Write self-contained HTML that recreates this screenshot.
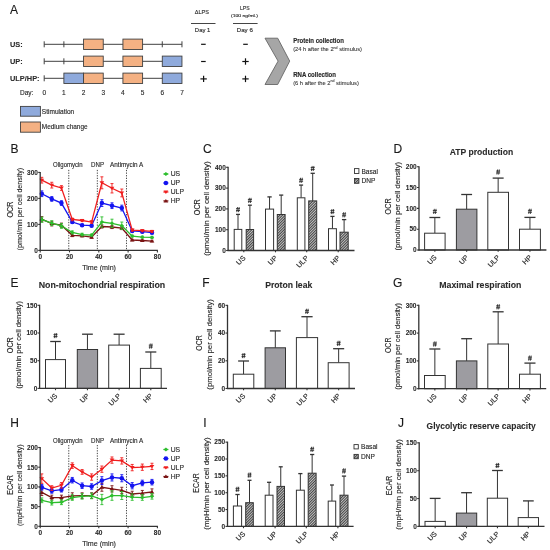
<!DOCTYPE html>
<html><head><meta charset="utf-8"><style>
html,body{margin:0;padding:0;background:#fff;}
svg{display:block;font-family:"Liberation Sans", sans-serif;filter:blur(0.3px);}
</style></head><body>
<svg width="550" height="550" viewBox="0 0 550 550">
<rect width="550" height="550" fill="#fff"/>
<defs><pattern id="hat" patternUnits="userSpaceOnUse" width="1.9" height="1.9" patternTransform="rotate(45)"><rect width="1.9" height="1.9" fill="#c0c0c0"/><rect width="0.95" height="1.9" fill="#454545"/></pattern></defs>
<text x="10.00" y="14.30" font-size="12" fill="#1a1a1a" stroke="#1a1a1a" stroke-width="0.14">A</text>
<text x="10.40" y="152.70" font-size="12" fill="#1a1a1a" stroke="#1a1a1a" stroke-width="0.14">B</text>
<text x="203.00" y="152.70" font-size="12" fill="#1a1a1a" stroke="#1a1a1a" stroke-width="0.14">C</text>
<text x="393.40" y="152.70" font-size="12" fill="#1a1a1a" stroke="#1a1a1a" stroke-width="0.14">D</text>
<text x="10.40" y="287.40" font-size="12" fill="#1a1a1a" stroke="#1a1a1a" stroke-width="0.14">E</text>
<text x="202.30" y="287.40" font-size="12" fill="#1a1a1a" stroke="#1a1a1a" stroke-width="0.14">F</text>
<text x="393.00" y="287.30" font-size="12" fill="#1a1a1a" stroke="#1a1a1a" stroke-width="0.14">G</text>
<text x="10.20" y="427.40" font-size="12" fill="#1a1a1a" stroke="#1a1a1a" stroke-width="0.14">H</text>
<text x="203.30" y="427.40" font-size="12" fill="#1a1a1a" stroke="#1a1a1a" stroke-width="0.14">I</text>
<text x="398.00" y="427.40" font-size="12" fill="#1a1a1a" stroke="#1a1a1a" stroke-width="0.14">J</text>
<text x="10.00" y="46.50" font-size="7.4" font-weight="bold" fill="#2a2a2a" stroke="#2a2a2a" stroke-width="0.08">US:</text>
<line x1="44.20" y1="44.30" x2="181.96" y2="44.30" stroke="#404040" stroke-width="1"/>
<text x="10.00" y="63.50" font-size="7.4" font-weight="bold" fill="#2a2a2a" stroke="#2a2a2a" stroke-width="0.08">UP:</text>
<line x1="44.20" y1="61.30" x2="181.96" y2="61.30" stroke="#404040" stroke-width="1"/>
<text x="10.00" y="80.50" font-size="7.4" font-weight="bold" fill="#2a2a2a" stroke="#2a2a2a" stroke-width="0.08">ULP/HP:</text>
<line x1="44.20" y1="78.30" x2="181.96" y2="78.30" stroke="#404040" stroke-width="1"/>
<line x1="44.20" y1="41.30" x2="44.20" y2="47.30" stroke="#404040" stroke-width="1"/>
<line x1="63.88" y1="41.30" x2="63.88" y2="47.30" stroke="#404040" stroke-width="1"/>
<line x1="162.28" y1="41.30" x2="162.28" y2="47.30" stroke="#404040" stroke-width="1"/>
<line x1="181.96" y1="41.30" x2="181.96" y2="47.30" stroke="#404040" stroke-width="1"/>
<rect x="83.56" y="39.10" width="19.68" height="10.40" fill="#F4B183" stroke="#404040" stroke-width="0.9"/>
<rect x="122.92" y="39.10" width="19.68" height="10.40" fill="#F4B183" stroke="#404040" stroke-width="0.9"/>
<line x1="44.20" y1="58.30" x2="44.20" y2="64.30" stroke="#404040" stroke-width="1"/>
<line x1="63.88" y1="58.30" x2="63.88" y2="64.30" stroke="#404040" stroke-width="1"/>
<rect x="83.56" y="56.10" width="19.68" height="10.40" fill="#F4B183" stroke="#404040" stroke-width="0.9"/>
<rect x="122.92" y="56.10" width="19.68" height="10.40" fill="#F4B183" stroke="#404040" stroke-width="0.9"/>
<rect x="162.28" y="56.10" width="19.68" height="10.40" fill="#8FAADC" stroke="#404040" stroke-width="0.9"/>
<line x1="44.20" y1="75.30" x2="44.20" y2="81.30" stroke="#404040" stroke-width="1"/>
<rect x="63.88" y="73.10" width="19.68" height="10.40" fill="#8FAADC" stroke="#404040" stroke-width="0.9"/>
<rect x="83.56" y="73.10" width="19.68" height="10.40" fill="#F4B183" stroke="#404040" stroke-width="0.9"/>
<rect x="122.92" y="73.10" width="19.68" height="10.40" fill="#F4B183" stroke="#404040" stroke-width="0.9"/>
<rect x="162.28" y="73.10" width="19.68" height="10.40" fill="#8FAADC" stroke="#404040" stroke-width="0.9"/>
<text x="20.00" y="94.60" font-size="6.5" fill="#2a2a2a" stroke="#2a2a2a" stroke-width="0.14">Day:</text>
<text x="44.20" y="94.60" font-size="6.5" text-anchor="middle" fill="#2a2a2a" stroke="#2a2a2a" stroke-width="0.14">0</text>
<text x="63.88" y="94.60" font-size="6.5" text-anchor="middle" fill="#2a2a2a" stroke="#2a2a2a" stroke-width="0.14">1</text>
<text x="83.56" y="94.60" font-size="6.5" text-anchor="middle" fill="#2a2a2a" stroke="#2a2a2a" stroke-width="0.14">2</text>
<text x="103.24" y="94.60" font-size="6.5" text-anchor="middle" fill="#2a2a2a" stroke="#2a2a2a" stroke-width="0.14">3</text>
<text x="122.92" y="94.60" font-size="6.5" text-anchor="middle" fill="#2a2a2a" stroke="#2a2a2a" stroke-width="0.14">4</text>
<text x="142.60" y="94.60" font-size="6.5" text-anchor="middle" fill="#2a2a2a" stroke="#2a2a2a" stroke-width="0.14">5</text>
<text x="162.28" y="94.60" font-size="6.5" text-anchor="middle" fill="#2a2a2a" stroke="#2a2a2a" stroke-width="0.14">6</text>
<text x="181.96" y="94.60" font-size="6.5" text-anchor="middle" fill="#2a2a2a" stroke="#2a2a2a" stroke-width="0.14">7</text>
<rect x="20.50" y="106.40" width="19.90" height="9.80" fill="#8FAADC" stroke="#404040" stroke-width="0.9"/>
<rect x="20.50" y="122.00" width="19.90" height="10.20" fill="#F4B183" stroke="#404040" stroke-width="0.9"/>
<text x="41.80" y="113.60" font-size="6.5" fill="#2a2a2a" stroke="#2a2a2a" stroke-width="0.14" textLength="32.40" lengthAdjust="spacingAndGlyphs">Stimulation</text>
<text x="41.80" y="129.40" font-size="6.5" fill="#2a2a2a" stroke="#2a2a2a" stroke-width="0.14" textLength="45.80" lengthAdjust="spacingAndGlyphs">Medium change</text>
<text x="201.80" y="14.30" font-size="6" text-anchor="middle" fill="#2a2a2a" stroke="#2a2a2a" stroke-width="0.14" textLength="14.20" lengthAdjust="spacingAndGlyphs">&#916;LPS</text>
<text x="244.80" y="10.40" font-size="6" text-anchor="middle" fill="#2a2a2a" stroke="#2a2a2a" stroke-width="0.14" textLength="9.60" lengthAdjust="spacingAndGlyphs">LPS</text>
<text x="244.50" y="17.30" font-size="4.2" text-anchor="middle" fill="#2a2a2a" stroke="#2a2a2a" stroke-width="0.14" textLength="27.00" lengthAdjust="spacingAndGlyphs">(100 ng/mL)</text>
<line x1="191.00" y1="23.50" x2="215.50" y2="23.50" stroke="#444" stroke-width="1"/>
<line x1="233.00" y1="23.50" x2="257.60" y2="23.50" stroke="#444" stroke-width="1"/>
<text x="202.60" y="31.90" font-size="6.2" text-anchor="middle" fill="#2a2a2a" stroke="#2a2a2a" stroke-width="0.14" textLength="15.50" lengthAdjust="spacingAndGlyphs">Day 1</text>
<text x="244.80" y="31.90" font-size="6.2" text-anchor="middle" fill="#2a2a2a" stroke="#2a2a2a" stroke-width="0.14" textLength="16.00" lengthAdjust="spacingAndGlyphs">Day 6</text>
<line x1="201.10" y1="44.30" x2="205.70" y2="44.30" stroke="#111" stroke-width="1.2"/>
<line x1="243.20" y1="44.30" x2="247.80" y2="44.30" stroke="#111" stroke-width="1.2"/>
<line x1="201.10" y1="61.50" x2="205.70" y2="61.50" stroke="#111" stroke-width="1.2"/>
<line x1="242.30" y1="61.50" x2="248.70" y2="61.50" stroke="#111" stroke-width="1.2"/>
<line x1="245.50" y1="58.30" x2="245.50" y2="64.70" stroke="#111" stroke-width="1.2"/>
<line x1="200.40" y1="78.90" x2="206.80" y2="78.90" stroke="#111" stroke-width="1.2"/>
<line x1="203.60" y1="75.70" x2="203.60" y2="82.10" stroke="#111" stroke-width="1.2"/>
<line x1="242.30" y1="78.90" x2="248.70" y2="78.90" stroke="#111" stroke-width="1.2"/>
<line x1="245.50" y1="75.70" x2="245.50" y2="82.10" stroke="#111" stroke-width="1.2"/>
<polygon points="265,38.2 277.7,38.2 289.7,61.1 277.7,84.5 265,84.5 278.1,61.1" fill="#A6A6A6" stroke="#666" stroke-width="0.9"/>
<text x="293.20" y="43.10" font-size="6.4" font-weight="bold" fill="#2a2a2a" stroke="#2a2a2a" stroke-width="0.15" textLength="50.70" lengthAdjust="spacingAndGlyphs">Protein collection</text>
<text x="293.20" y="50.80" font-size="5.72" fill="#3a3a3a" stroke="#3a3a3a" stroke-width="0.1">(24 h after the 2<tspan font-size="3.6" dy="-2.3">nd</tspan><tspan dy="2.3"> stimulus)</tspan></text>
<text x="293.20" y="76.60" font-size="6.4" font-weight="bold" fill="#2a2a2a" stroke="#2a2a2a" stroke-width="0.15" textLength="42.80" lengthAdjust="spacingAndGlyphs">RNA collection</text>
<text x="293.20" y="84.50" font-size="5.72" fill="#3a3a3a" stroke="#3a3a3a" stroke-width="0.1">(6 h after the 2<tspan font-size="3.6" dy="-2.3">nd</tspan><tspan dy="2.3"> stimulus)</tspan></text>
<line x1="68.77" y1="169.90" x2="68.77" y2="250.40" stroke="#333" stroke-width="0.9" stroke-dasharray="1.3,1.3"/>
<line x1="97.34" y1="169.90" x2="97.34" y2="250.40" stroke="#333" stroke-width="0.9" stroke-dasharray="1.3,1.3"/>
<line x1="126.49" y1="169.90" x2="126.49" y2="250.40" stroke="#333" stroke-width="0.9" stroke-dasharray="1.3,1.3"/>
<polyline points="41.81,219.20 51.77,223.62 61.44,225.18 72.28,235.32 82.10,235.84 91.62,237.14 101.88,226.48 111.99,227.00 121.80,228.04 132.20,240.00 142.31,240.52 151.98,241.04" fill="none" stroke="#7A1414" stroke-width="1.3"/>
<line x1="41.81" y1="216.60" x2="41.81" y2="221.80" stroke="#7A1414" stroke-width="0.9"/>
<line x1="40.31" y1="216.60" x2="43.31" y2="216.60" stroke="#7A1414" stroke-width="0.9"/>
<line x1="40.31" y1="221.80" x2="43.31" y2="221.80" stroke="#7A1414" stroke-width="0.9"/>
<polygon points="39.41,220.70 44.21,220.70 41.81,217.30" fill="#7A1414"/>
<line x1="51.77" y1="221.28" x2="51.77" y2="225.96" stroke="#7A1414" stroke-width="0.9"/>
<line x1="50.27" y1="221.28" x2="53.27" y2="221.28" stroke="#7A1414" stroke-width="0.9"/>
<line x1="50.27" y1="225.96" x2="53.27" y2="225.96" stroke="#7A1414" stroke-width="0.9"/>
<polygon points="49.37,225.12 54.17,225.12 51.77,221.72" fill="#7A1414"/>
<line x1="61.44" y1="223.10" x2="61.44" y2="227.26" stroke="#7A1414" stroke-width="0.9"/>
<line x1="59.94" y1="223.10" x2="62.94" y2="223.10" stroke="#7A1414" stroke-width="0.9"/>
<line x1="59.94" y1="227.26" x2="62.94" y2="227.26" stroke="#7A1414" stroke-width="0.9"/>
<polygon points="59.04,226.68 63.84,226.68 61.44,223.28" fill="#7A1414"/>
<line x1="72.28" y1="234.02" x2="72.28" y2="236.62" stroke="#7A1414" stroke-width="0.9"/>
<line x1="70.78" y1="234.02" x2="73.78" y2="234.02" stroke="#7A1414" stroke-width="0.9"/>
<line x1="70.78" y1="236.62" x2="73.78" y2="236.62" stroke="#7A1414" stroke-width="0.9"/>
<polygon points="69.88,236.82 74.68,236.82 72.28,233.42" fill="#7A1414"/>
<line x1="82.10" y1="234.80" x2="82.10" y2="236.88" stroke="#7A1414" stroke-width="0.9"/>
<line x1="80.60" y1="234.80" x2="83.60" y2="234.80" stroke="#7A1414" stroke-width="0.9"/>
<line x1="80.60" y1="236.88" x2="83.60" y2="236.88" stroke="#7A1414" stroke-width="0.9"/>
<polygon points="79.70,237.34 84.50,237.34 82.10,233.94" fill="#7A1414"/>
<line x1="91.62" y1="236.10" x2="91.62" y2="238.18" stroke="#7A1414" stroke-width="0.9"/>
<line x1="90.12" y1="236.10" x2="93.12" y2="236.10" stroke="#7A1414" stroke-width="0.9"/>
<line x1="90.12" y1="238.18" x2="93.12" y2="238.18" stroke="#7A1414" stroke-width="0.9"/>
<polygon points="89.22,238.64 94.02,238.64 91.62,235.24" fill="#7A1414"/>
<line x1="101.88" y1="224.92" x2="101.88" y2="228.04" stroke="#7A1414" stroke-width="0.9"/>
<line x1="100.38" y1="224.92" x2="103.38" y2="224.92" stroke="#7A1414" stroke-width="0.9"/>
<line x1="100.38" y1="228.04" x2="103.38" y2="228.04" stroke="#7A1414" stroke-width="0.9"/>
<polygon points="99.48,227.98 104.28,227.98 101.88,224.58" fill="#7A1414"/>
<line x1="111.99" y1="225.44" x2="111.99" y2="228.56" stroke="#7A1414" stroke-width="0.9"/>
<line x1="110.49" y1="225.44" x2="113.49" y2="225.44" stroke="#7A1414" stroke-width="0.9"/>
<line x1="110.49" y1="228.56" x2="113.49" y2="228.56" stroke="#7A1414" stroke-width="0.9"/>
<polygon points="109.59,228.50 114.39,228.50 111.99,225.10" fill="#7A1414"/>
<line x1="121.80" y1="226.48" x2="121.80" y2="229.60" stroke="#7A1414" stroke-width="0.9"/>
<line x1="120.30" y1="226.48" x2="123.30" y2="226.48" stroke="#7A1414" stroke-width="0.9"/>
<line x1="120.30" y1="229.60" x2="123.30" y2="229.60" stroke="#7A1414" stroke-width="0.9"/>
<polygon points="119.40,229.54 124.20,229.54 121.80,226.14" fill="#7A1414"/>
<line x1="132.20" y1="239.22" x2="132.20" y2="240.78" stroke="#7A1414" stroke-width="0.9"/>
<line x1="130.70" y1="239.22" x2="133.70" y2="239.22" stroke="#7A1414" stroke-width="0.9"/>
<line x1="130.70" y1="240.78" x2="133.70" y2="240.78" stroke="#7A1414" stroke-width="0.9"/>
<polygon points="129.80,241.50 134.60,241.50 132.20,238.10" fill="#7A1414"/>
<line x1="142.31" y1="239.74" x2="142.31" y2="241.30" stroke="#7A1414" stroke-width="0.9"/>
<line x1="140.81" y1="239.74" x2="143.81" y2="239.74" stroke="#7A1414" stroke-width="0.9"/>
<line x1="140.81" y1="241.30" x2="143.81" y2="241.30" stroke="#7A1414" stroke-width="0.9"/>
<polygon points="139.91,242.02 144.71,242.02 142.31,238.62" fill="#7A1414"/>
<line x1="151.98" y1="240.26" x2="151.98" y2="241.82" stroke="#7A1414" stroke-width="0.9"/>
<line x1="150.48" y1="240.26" x2="153.48" y2="240.26" stroke="#7A1414" stroke-width="0.9"/>
<line x1="150.48" y1="241.82" x2="153.48" y2="241.82" stroke="#7A1414" stroke-width="0.9"/>
<polygon points="149.58,242.54 154.38,242.54 151.98,239.14" fill="#7A1414"/>
<polyline points="41.81,219.72 51.77,223.10 61.44,225.96 72.28,232.46 82.10,234.54 91.62,235.06 101.88,222.06 111.99,223.36 121.80,225.70 132.20,236.10 142.31,237.14 151.98,237.40" fill="none" stroke="#2DBE2D" stroke-width="1.3"/>
<line x1="41.81" y1="217.12" x2="41.81" y2="222.32" stroke="#2DBE2D" stroke-width="0.9"/>
<line x1="40.31" y1="217.12" x2="43.31" y2="217.12" stroke="#2DBE2D" stroke-width="0.9"/>
<line x1="40.31" y1="222.32" x2="43.31" y2="222.32" stroke="#2DBE2D" stroke-width="0.9"/>
<polygon points="39.51,219.72 41.81,217.82 44.11,219.72 41.81,221.62" fill="#2DBE2D"/>
<line x1="51.77" y1="220.76" x2="51.77" y2="225.44" stroke="#2DBE2D" stroke-width="0.9"/>
<line x1="50.27" y1="220.76" x2="53.27" y2="220.76" stroke="#2DBE2D" stroke-width="0.9"/>
<line x1="50.27" y1="225.44" x2="53.27" y2="225.44" stroke="#2DBE2D" stroke-width="0.9"/>
<polygon points="49.47,223.10 51.77,221.20 54.07,223.10 51.77,225.00" fill="#2DBE2D"/>
<line x1="61.44" y1="223.62" x2="61.44" y2="228.30" stroke="#2DBE2D" stroke-width="0.9"/>
<line x1="59.94" y1="223.62" x2="62.94" y2="223.62" stroke="#2DBE2D" stroke-width="0.9"/>
<line x1="59.94" y1="228.30" x2="62.94" y2="228.30" stroke="#2DBE2D" stroke-width="0.9"/>
<polygon points="59.14,225.96 61.44,224.06 63.74,225.96 61.44,227.86" fill="#2DBE2D"/>
<line x1="72.28" y1="230.90" x2="72.28" y2="234.02" stroke="#2DBE2D" stroke-width="0.9"/>
<line x1="70.78" y1="230.90" x2="73.78" y2="230.90" stroke="#2DBE2D" stroke-width="0.9"/>
<line x1="70.78" y1="234.02" x2="73.78" y2="234.02" stroke="#2DBE2D" stroke-width="0.9"/>
<polygon points="69.98,232.46 72.28,230.56 74.58,232.46 72.28,234.36" fill="#2DBE2D"/>
<line x1="82.10" y1="233.24" x2="82.10" y2="235.84" stroke="#2DBE2D" stroke-width="0.9"/>
<line x1="80.60" y1="233.24" x2="83.60" y2="233.24" stroke="#2DBE2D" stroke-width="0.9"/>
<line x1="80.60" y1="235.84" x2="83.60" y2="235.84" stroke="#2DBE2D" stroke-width="0.9"/>
<polygon points="79.80,234.54 82.10,232.64 84.40,234.54 82.10,236.44" fill="#2DBE2D"/>
<line x1="91.62" y1="234.02" x2="91.62" y2="236.10" stroke="#2DBE2D" stroke-width="0.9"/>
<line x1="90.12" y1="234.02" x2="93.12" y2="234.02" stroke="#2DBE2D" stroke-width="0.9"/>
<line x1="90.12" y1="236.10" x2="93.12" y2="236.10" stroke="#2DBE2D" stroke-width="0.9"/>
<polygon points="89.32,235.06 91.62,233.16 93.92,235.06 91.62,236.96" fill="#2DBE2D"/>
<line x1="101.88" y1="216.86" x2="101.88" y2="227.26" stroke="#2DBE2D" stroke-width="0.9"/>
<line x1="100.38" y1="216.86" x2="103.38" y2="216.86" stroke="#2DBE2D" stroke-width="0.9"/>
<line x1="100.38" y1="227.26" x2="103.38" y2="227.26" stroke="#2DBE2D" stroke-width="0.9"/>
<polygon points="99.58,222.06 101.88,220.16 104.18,222.06 101.88,223.96" fill="#2DBE2D"/>
<line x1="111.99" y1="219.20" x2="111.99" y2="227.52" stroke="#2DBE2D" stroke-width="0.9"/>
<line x1="110.49" y1="219.20" x2="113.49" y2="219.20" stroke="#2DBE2D" stroke-width="0.9"/>
<line x1="110.49" y1="227.52" x2="113.49" y2="227.52" stroke="#2DBE2D" stroke-width="0.9"/>
<polygon points="109.69,223.36 111.99,221.46 114.29,223.36 111.99,225.26" fill="#2DBE2D"/>
<line x1="121.80" y1="222.06" x2="121.80" y2="229.34" stroke="#2DBE2D" stroke-width="0.9"/>
<line x1="120.30" y1="222.06" x2="123.30" y2="222.06" stroke="#2DBE2D" stroke-width="0.9"/>
<line x1="120.30" y1="229.34" x2="123.30" y2="229.34" stroke="#2DBE2D" stroke-width="0.9"/>
<polygon points="119.50,225.70 121.80,223.80 124.10,225.70 121.80,227.60" fill="#2DBE2D"/>
<line x1="132.20" y1="235.06" x2="132.20" y2="237.14" stroke="#2DBE2D" stroke-width="0.9"/>
<line x1="130.70" y1="235.06" x2="133.70" y2="235.06" stroke="#2DBE2D" stroke-width="0.9"/>
<line x1="130.70" y1="237.14" x2="133.70" y2="237.14" stroke="#2DBE2D" stroke-width="0.9"/>
<polygon points="129.90,236.10 132.20,234.20 134.50,236.10 132.20,238.00" fill="#2DBE2D"/>
<line x1="142.31" y1="236.10" x2="142.31" y2="238.18" stroke="#2DBE2D" stroke-width="0.9"/>
<line x1="140.81" y1="236.10" x2="143.81" y2="236.10" stroke="#2DBE2D" stroke-width="0.9"/>
<line x1="140.81" y1="238.18" x2="143.81" y2="238.18" stroke="#2DBE2D" stroke-width="0.9"/>
<polygon points="140.01,237.14 142.31,235.24 144.61,237.14 142.31,239.04" fill="#2DBE2D"/>
<line x1="151.98" y1="236.36" x2="151.98" y2="238.44" stroke="#2DBE2D" stroke-width="0.9"/>
<line x1="150.48" y1="236.36" x2="153.48" y2="236.36" stroke="#2DBE2D" stroke-width="0.9"/>
<line x1="150.48" y1="238.44" x2="153.48" y2="238.44" stroke="#2DBE2D" stroke-width="0.9"/>
<polygon points="149.68,237.40 151.98,235.50 154.28,237.40 151.98,239.30" fill="#2DBE2D"/>
<polyline points="41.81,193.72 51.77,198.92 61.44,203.08 72.28,222.06 82.10,225.18 91.62,225.70 101.88,203.08 111.99,205.68 121.80,208.02 132.20,230.90 142.31,231.68 151.98,232.72" fill="none" stroke="#1414F0" stroke-width="1.3"/>
<line x1="41.81" y1="190.86" x2="41.81" y2="196.58" stroke="#1414F0" stroke-width="0.9"/>
<line x1="40.31" y1="190.86" x2="43.31" y2="190.86" stroke="#1414F0" stroke-width="0.9"/>
<line x1="40.31" y1="196.58" x2="43.31" y2="196.58" stroke="#1414F0" stroke-width="0.9"/>
<circle cx="41.81" cy="193.72" r="2.25" fill="#1414F0"/>
<line x1="51.77" y1="196.58" x2="51.77" y2="201.26" stroke="#1414F0" stroke-width="0.9"/>
<line x1="50.27" y1="196.58" x2="53.27" y2="196.58" stroke="#1414F0" stroke-width="0.9"/>
<line x1="50.27" y1="201.26" x2="53.27" y2="201.26" stroke="#1414F0" stroke-width="0.9"/>
<circle cx="51.77" cy="198.92" r="2.25" fill="#1414F0"/>
<line x1="61.44" y1="200.74" x2="61.44" y2="205.42" stroke="#1414F0" stroke-width="0.9"/>
<line x1="59.94" y1="200.74" x2="62.94" y2="200.74" stroke="#1414F0" stroke-width="0.9"/>
<line x1="59.94" y1="205.42" x2="62.94" y2="205.42" stroke="#1414F0" stroke-width="0.9"/>
<circle cx="61.44" cy="203.08" r="2.25" fill="#1414F0"/>
<line x1="72.28" y1="220.76" x2="72.28" y2="223.36" stroke="#1414F0" stroke-width="0.9"/>
<line x1="70.78" y1="220.76" x2="73.78" y2="220.76" stroke="#1414F0" stroke-width="0.9"/>
<line x1="70.78" y1="223.36" x2="73.78" y2="223.36" stroke="#1414F0" stroke-width="0.9"/>
<circle cx="72.28" cy="222.06" r="2.25" fill="#1414F0"/>
<line x1="82.10" y1="224.14" x2="82.10" y2="226.22" stroke="#1414F0" stroke-width="0.9"/>
<line x1="80.60" y1="224.14" x2="83.60" y2="224.14" stroke="#1414F0" stroke-width="0.9"/>
<line x1="80.60" y1="226.22" x2="83.60" y2="226.22" stroke="#1414F0" stroke-width="0.9"/>
<circle cx="82.10" cy="225.18" r="2.25" fill="#1414F0"/>
<line x1="91.62" y1="224.66" x2="91.62" y2="226.74" stroke="#1414F0" stroke-width="0.9"/>
<line x1="90.12" y1="224.66" x2="93.12" y2="224.66" stroke="#1414F0" stroke-width="0.9"/>
<line x1="90.12" y1="226.74" x2="93.12" y2="226.74" stroke="#1414F0" stroke-width="0.9"/>
<circle cx="91.62" cy="225.70" r="2.25" fill="#1414F0"/>
<line x1="101.88" y1="199.70" x2="101.88" y2="206.46" stroke="#1414F0" stroke-width="0.9"/>
<line x1="100.38" y1="199.70" x2="103.38" y2="199.70" stroke="#1414F0" stroke-width="0.9"/>
<line x1="100.38" y1="206.46" x2="103.38" y2="206.46" stroke="#1414F0" stroke-width="0.9"/>
<circle cx="101.88" cy="203.08" r="2.25" fill="#1414F0"/>
<line x1="111.99" y1="202.82" x2="111.99" y2="208.54" stroke="#1414F0" stroke-width="0.9"/>
<line x1="110.49" y1="202.82" x2="113.49" y2="202.82" stroke="#1414F0" stroke-width="0.9"/>
<line x1="110.49" y1="208.54" x2="113.49" y2="208.54" stroke="#1414F0" stroke-width="0.9"/>
<circle cx="111.99" cy="205.68" r="2.25" fill="#1414F0"/>
<line x1="121.80" y1="205.16" x2="121.80" y2="210.88" stroke="#1414F0" stroke-width="0.9"/>
<line x1="120.30" y1="205.16" x2="123.30" y2="205.16" stroke="#1414F0" stroke-width="0.9"/>
<line x1="120.30" y1="210.88" x2="123.30" y2="210.88" stroke="#1414F0" stroke-width="0.9"/>
<circle cx="121.80" cy="208.02" r="2.25" fill="#1414F0"/>
<line x1="132.20" y1="229.86" x2="132.20" y2="231.94" stroke="#1414F0" stroke-width="0.9"/>
<line x1="130.70" y1="229.86" x2="133.70" y2="229.86" stroke="#1414F0" stroke-width="0.9"/>
<line x1="130.70" y1="231.94" x2="133.70" y2="231.94" stroke="#1414F0" stroke-width="0.9"/>
<circle cx="132.20" cy="230.90" r="2.25" fill="#1414F0"/>
<line x1="142.31" y1="230.64" x2="142.31" y2="232.72" stroke="#1414F0" stroke-width="0.9"/>
<line x1="140.81" y1="230.64" x2="143.81" y2="230.64" stroke="#1414F0" stroke-width="0.9"/>
<line x1="140.81" y1="232.72" x2="143.81" y2="232.72" stroke="#1414F0" stroke-width="0.9"/>
<circle cx="142.31" cy="231.68" r="2.25" fill="#1414F0"/>
<line x1="151.98" y1="231.68" x2="151.98" y2="233.76" stroke="#1414F0" stroke-width="0.9"/>
<line x1="150.48" y1="231.68" x2="153.48" y2="231.68" stroke="#1414F0" stroke-width="0.9"/>
<line x1="150.48" y1="233.76" x2="153.48" y2="233.76" stroke="#1414F0" stroke-width="0.9"/>
<circle cx="151.98" cy="232.72" r="2.25" fill="#1414F0"/>
<polyline points="41.81,180.20 51.77,185.14 61.44,188.00 72.28,219.46 82.10,220.50 91.62,222.06 101.88,182.80 111.99,188.26 121.80,192.94 132.20,230.12 142.31,230.64 151.98,231.42" fill="none" stroke="#F01E1E" stroke-width="1.3"/>
<line x1="41.81" y1="177.34" x2="41.81" y2="183.06" stroke="#F01E1E" stroke-width="0.9"/>
<line x1="40.31" y1="177.34" x2="43.31" y2="177.34" stroke="#F01E1E" stroke-width="0.9"/>
<line x1="40.31" y1="183.06" x2="43.31" y2="183.06" stroke="#F01E1E" stroke-width="0.9"/>
<polygon points="39.41,178.70 44.21,178.70 41.81,182.10" fill="#F01E1E"/>
<line x1="51.77" y1="182.28" x2="51.77" y2="188.00" stroke="#F01E1E" stroke-width="0.9"/>
<line x1="50.27" y1="182.28" x2="53.27" y2="182.28" stroke="#F01E1E" stroke-width="0.9"/>
<line x1="50.27" y1="188.00" x2="53.27" y2="188.00" stroke="#F01E1E" stroke-width="0.9"/>
<polygon points="49.37,183.64 54.17,183.64 51.77,187.04" fill="#F01E1E"/>
<line x1="61.44" y1="185.66" x2="61.44" y2="190.34" stroke="#F01E1E" stroke-width="0.9"/>
<line x1="59.94" y1="185.66" x2="62.94" y2="185.66" stroke="#F01E1E" stroke-width="0.9"/>
<line x1="59.94" y1="190.34" x2="62.94" y2="190.34" stroke="#F01E1E" stroke-width="0.9"/>
<polygon points="59.04,186.50 63.84,186.50 61.44,189.90" fill="#F01E1E"/>
<line x1="72.28" y1="218.16" x2="72.28" y2="220.76" stroke="#F01E1E" stroke-width="0.9"/>
<line x1="70.78" y1="218.16" x2="73.78" y2="218.16" stroke="#F01E1E" stroke-width="0.9"/>
<line x1="70.78" y1="220.76" x2="73.78" y2="220.76" stroke="#F01E1E" stroke-width="0.9"/>
<polygon points="69.88,217.96 74.68,217.96 72.28,221.36" fill="#F01E1E"/>
<line x1="82.10" y1="219.46" x2="82.10" y2="221.54" stroke="#F01E1E" stroke-width="0.9"/>
<line x1="80.60" y1="219.46" x2="83.60" y2="219.46" stroke="#F01E1E" stroke-width="0.9"/>
<line x1="80.60" y1="221.54" x2="83.60" y2="221.54" stroke="#F01E1E" stroke-width="0.9"/>
<polygon points="79.70,219.00 84.50,219.00 82.10,222.40" fill="#F01E1E"/>
<line x1="91.62" y1="220.76" x2="91.62" y2="223.36" stroke="#F01E1E" stroke-width="0.9"/>
<line x1="90.12" y1="220.76" x2="93.12" y2="220.76" stroke="#F01E1E" stroke-width="0.9"/>
<line x1="90.12" y1="223.36" x2="93.12" y2="223.36" stroke="#F01E1E" stroke-width="0.9"/>
<polygon points="89.22,220.56 94.02,220.56 91.62,223.96" fill="#F01E1E"/>
<line x1="101.88" y1="176.82" x2="101.88" y2="188.78" stroke="#F01E1E" stroke-width="0.9"/>
<line x1="100.38" y1="176.82" x2="103.38" y2="176.82" stroke="#F01E1E" stroke-width="0.9"/>
<line x1="100.38" y1="188.78" x2="103.38" y2="188.78" stroke="#F01E1E" stroke-width="0.9"/>
<polygon points="99.48,181.30 104.28,181.30 101.88,184.70" fill="#F01E1E"/>
<line x1="111.99" y1="183.58" x2="111.99" y2="192.94" stroke="#F01E1E" stroke-width="0.9"/>
<line x1="110.49" y1="183.58" x2="113.49" y2="183.58" stroke="#F01E1E" stroke-width="0.9"/>
<line x1="110.49" y1="192.94" x2="113.49" y2="192.94" stroke="#F01E1E" stroke-width="0.9"/>
<polygon points="109.59,186.76 114.39,186.76 111.99,190.16" fill="#F01E1E"/>
<line x1="121.80" y1="189.04" x2="121.80" y2="196.84" stroke="#F01E1E" stroke-width="0.9"/>
<line x1="120.30" y1="189.04" x2="123.30" y2="189.04" stroke="#F01E1E" stroke-width="0.9"/>
<line x1="120.30" y1="196.84" x2="123.30" y2="196.84" stroke="#F01E1E" stroke-width="0.9"/>
<polygon points="119.40,191.44 124.20,191.44 121.80,194.84" fill="#F01E1E"/>
<line x1="132.20" y1="229.08" x2="132.20" y2="231.16" stroke="#F01E1E" stroke-width="0.9"/>
<line x1="130.70" y1="229.08" x2="133.70" y2="229.08" stroke="#F01E1E" stroke-width="0.9"/>
<line x1="130.70" y1="231.16" x2="133.70" y2="231.16" stroke="#F01E1E" stroke-width="0.9"/>
<polygon points="129.80,228.62 134.60,228.62 132.20,232.02" fill="#F01E1E"/>
<line x1="142.31" y1="229.60" x2="142.31" y2="231.68" stroke="#F01E1E" stroke-width="0.9"/>
<line x1="140.81" y1="229.60" x2="143.81" y2="229.60" stroke="#F01E1E" stroke-width="0.9"/>
<line x1="140.81" y1="231.68" x2="143.81" y2="231.68" stroke="#F01E1E" stroke-width="0.9"/>
<polygon points="139.91,229.14 144.71,229.14 142.31,232.54" fill="#F01E1E"/>
<line x1="151.98" y1="230.38" x2="151.98" y2="232.46" stroke="#F01E1E" stroke-width="0.9"/>
<line x1="150.48" y1="230.38" x2="153.48" y2="230.38" stroke="#F01E1E" stroke-width="0.9"/>
<line x1="150.48" y1="232.46" x2="153.48" y2="232.46" stroke="#F01E1E" stroke-width="0.9"/>
<polygon points="149.58,229.92 154.38,229.92 151.98,233.32" fill="#F01E1E"/>
<line x1="40.20" y1="171.90" x2="40.20" y2="250.90" stroke="#333" stroke-width="1.3"/>
<line x1="38.20" y1="250.40" x2="40.20" y2="250.40" stroke="#333" stroke-width="1.1"/>
<text x="37.90" y="252.70" font-size="6.5" font-weight="bold" text-anchor="end" fill="#2a2a2a" stroke="#2a2a2a" stroke-width="0.08">0</text>
<line x1="38.20" y1="224.40" x2="40.20" y2="224.40" stroke="#333" stroke-width="1.1"/>
<text x="37.90" y="226.70" font-size="6.5" font-weight="bold" text-anchor="end" fill="#2a2a2a" stroke="#2a2a2a" stroke-width="0.08">100</text>
<line x1="38.20" y1="198.40" x2="40.20" y2="198.40" stroke="#333" stroke-width="1.1"/>
<text x="37.90" y="200.70" font-size="6.5" font-weight="bold" text-anchor="end" fill="#2a2a2a" stroke="#2a2a2a" stroke-width="0.08">200</text>
<line x1="38.20" y1="172.40" x2="40.20" y2="172.40" stroke="#333" stroke-width="1.1"/>
<text x="37.90" y="174.70" font-size="6.5" font-weight="bold" text-anchor="end" fill="#2a2a2a" stroke="#2a2a2a" stroke-width="0.08">300</text>
<line x1="39.60" y1="250.40" x2="157.90" y2="250.40" stroke="#333" stroke-width="1.3"/>
<line x1="40.20" y1="250.40" x2="40.20" y2="252.40" stroke="#333" stroke-width="1.1"/>
<text x="40.20" y="258.80" font-size="6.5" font-weight="bold" text-anchor="middle" fill="#2a2a2a" stroke="#2a2a2a" stroke-width="0.08">0</text>
<line x1="69.50" y1="250.40" x2="69.50" y2="252.40" stroke="#333" stroke-width="1.1"/>
<text x="69.50" y="258.80" font-size="6.5" font-weight="bold" text-anchor="middle" fill="#2a2a2a" stroke="#2a2a2a" stroke-width="0.08">20</text>
<line x1="98.80" y1="250.40" x2="98.80" y2="252.40" stroke="#333" stroke-width="1.1"/>
<text x="98.80" y="258.80" font-size="6.5" font-weight="bold" text-anchor="middle" fill="#2a2a2a" stroke="#2a2a2a" stroke-width="0.08">40</text>
<line x1="128.10" y1="250.40" x2="128.10" y2="252.40" stroke="#333" stroke-width="1.1"/>
<text x="128.10" y="258.80" font-size="6.5" font-weight="bold" text-anchor="middle" fill="#2a2a2a" stroke="#2a2a2a" stroke-width="0.08">60</text>
<line x1="157.40" y1="250.40" x2="157.40" y2="252.40" stroke="#333" stroke-width="1.1"/>
<text x="157.40" y="258.80" font-size="6.5" font-weight="bold" text-anchor="middle" fill="#2a2a2a" stroke="#2a2a2a" stroke-width="0.08">80</text>
<text x="53.00" y="167.00" font-size="6.8" fill="#2a2a2a" stroke="#2a2a2a" stroke-width="0.14" textLength="29.60" lengthAdjust="spacingAndGlyphs">Oligomycin</text>
<text x="91.00" y="167.00" font-size="6.8" fill="#2a2a2a" stroke="#2a2a2a" stroke-width="0.14" textLength="13.00" lengthAdjust="spacingAndGlyphs">DNP</text>
<text x="110.10" y="167.00" font-size="6.8" fill="#2a2a2a" stroke="#2a2a2a" stroke-width="0.14" textLength="33.20" lengthAdjust="spacingAndGlyphs">Antimycin A</text>
<line x1="163.40" y1="174.00" x2="168.40" y2="174.00" stroke="#2DBE2D" stroke-width="1.2"/>
<polygon points="163.60,174.00 165.90,172.10 168.20,174.00 165.90,175.90" fill="#2DBE2D"/>
<text x="170.70" y="176.40" font-size="6.8" fill="#2a2a2a" stroke="#2a2a2a" stroke-width="0.14">US</text>
<line x1="163.40" y1="183.00" x2="168.40" y2="183.00" stroke="#1414F0" stroke-width="1.2"/>
<circle cx="165.90" cy="183.00" r="2.25" fill="#1414F0"/>
<text x="170.70" y="185.40" font-size="6.8" fill="#2a2a2a" stroke="#2a2a2a" stroke-width="0.14">UP</text>
<line x1="163.40" y1="192.00" x2="168.40" y2="192.00" stroke="#F01E1E" stroke-width="1.2"/>
<polygon points="163.50,190.50 168.30,190.50 165.90,193.90" fill="#F01E1E"/>
<text x="170.70" y="194.40" font-size="6.8" fill="#2a2a2a" stroke="#2a2a2a" stroke-width="0.14">ULP</text>
<line x1="163.40" y1="200.90" x2="168.40" y2="200.90" stroke="#7A1414" stroke-width="1.2"/>
<polygon points="163.50,202.40 168.30,202.40 165.90,199.00" fill="#7A1414"/>
<text x="170.70" y="203.30" font-size="6.8" fill="#2a2a2a" stroke="#2a2a2a" stroke-width="0.14">HP</text>
<text x="99.10" y="270.00" font-size="7.8" text-anchor="middle" fill="#2a2a2a" stroke="#2a2a2a" stroke-width="0.14" textLength="33.80" lengthAdjust="spacingAndGlyphs">Time (min)</text>
<text x="13.30" y="209.60" font-size="8.3" text-anchor="middle" fill="#2a2a2a" stroke="#2a2a2a" stroke-width="0.14" textLength="15.80" lengthAdjust="spacingAndGlyphs" transform="rotate(-90 13.30 209.60)">OCR</text>
<text x="21.90" y="209.10" font-size="7.2" text-anchor="middle" fill="#2a2a2a" stroke="#2a2a2a" stroke-width="0.14" textLength="82.60" lengthAdjust="spacingAndGlyphs" transform="rotate(-90 21.90 209.10)">(pmol/min per cell density)</text>
<line x1="68.77" y1="445.00" x2="68.77" y2="526.30" stroke="#333" stroke-width="0.9" stroke-dasharray="1.3,1.3"/>
<line x1="97.34" y1="445.00" x2="97.34" y2="526.30" stroke="#333" stroke-width="0.9" stroke-dasharray="1.3,1.3"/>
<line x1="126.49" y1="445.00" x2="126.49" y2="526.30" stroke="#333" stroke-width="0.9" stroke-dasharray="1.3,1.3"/>
<polyline points="41.81,492.42 51.77,497.54 61.44,497.54 72.28,495.96 82.10,495.57 91.62,495.57 101.88,487.29 111.99,488.87 121.80,490.45 132.20,493.99 142.31,493.20 151.98,492.02" fill="none" stroke="#7A1414" stroke-width="1.3"/>
<line x1="41.81" y1="489.26" x2="41.81" y2="495.57" stroke="#7A1414" stroke-width="0.9"/>
<line x1="40.31" y1="489.26" x2="43.31" y2="489.26" stroke="#7A1414" stroke-width="0.9"/>
<line x1="40.31" y1="495.57" x2="43.31" y2="495.57" stroke="#7A1414" stroke-width="0.9"/>
<polygon points="39.41,493.92 44.21,493.92 41.81,490.52" fill="#7A1414"/>
<line x1="51.77" y1="495.17" x2="51.77" y2="499.90" stroke="#7A1414" stroke-width="0.9"/>
<line x1="50.27" y1="495.17" x2="53.27" y2="495.17" stroke="#7A1414" stroke-width="0.9"/>
<line x1="50.27" y1="499.90" x2="53.27" y2="499.90" stroke="#7A1414" stroke-width="0.9"/>
<polygon points="49.37,499.04 54.17,499.04 51.77,495.64" fill="#7A1414"/>
<line x1="61.44" y1="495.17" x2="61.44" y2="499.90" stroke="#7A1414" stroke-width="0.9"/>
<line x1="59.94" y1="495.17" x2="62.94" y2="495.17" stroke="#7A1414" stroke-width="0.9"/>
<line x1="59.94" y1="499.90" x2="62.94" y2="499.90" stroke="#7A1414" stroke-width="0.9"/>
<polygon points="59.04,499.04 63.84,499.04 61.44,495.64" fill="#7A1414"/>
<line x1="72.28" y1="492.81" x2="72.28" y2="499.11" stroke="#7A1414" stroke-width="0.9"/>
<line x1="70.78" y1="492.81" x2="73.78" y2="492.81" stroke="#7A1414" stroke-width="0.9"/>
<line x1="70.78" y1="499.11" x2="73.78" y2="499.11" stroke="#7A1414" stroke-width="0.9"/>
<polygon points="69.88,497.46 74.68,497.46 72.28,494.06" fill="#7A1414"/>
<line x1="82.10" y1="492.81" x2="82.10" y2="498.33" stroke="#7A1414" stroke-width="0.9"/>
<line x1="80.60" y1="492.81" x2="83.60" y2="492.81" stroke="#7A1414" stroke-width="0.9"/>
<line x1="80.60" y1="498.33" x2="83.60" y2="498.33" stroke="#7A1414" stroke-width="0.9"/>
<polygon points="79.70,497.07 84.50,497.07 82.10,493.67" fill="#7A1414"/>
<line x1="91.62" y1="492.81" x2="91.62" y2="498.33" stroke="#7A1414" stroke-width="0.9"/>
<line x1="90.12" y1="492.81" x2="93.12" y2="492.81" stroke="#7A1414" stroke-width="0.9"/>
<line x1="90.12" y1="498.33" x2="93.12" y2="498.33" stroke="#7A1414" stroke-width="0.9"/>
<polygon points="89.22,497.07 94.02,497.07 91.62,493.67" fill="#7A1414"/>
<line x1="101.88" y1="483.35" x2="101.88" y2="491.23" stroke="#7A1414" stroke-width="0.9"/>
<line x1="100.38" y1="483.35" x2="103.38" y2="483.35" stroke="#7A1414" stroke-width="0.9"/>
<line x1="100.38" y1="491.23" x2="103.38" y2="491.23" stroke="#7A1414" stroke-width="0.9"/>
<polygon points="99.48,488.79 104.28,488.79 101.88,485.39" fill="#7A1414"/>
<line x1="111.99" y1="485.72" x2="111.99" y2="492.02" stroke="#7A1414" stroke-width="0.9"/>
<line x1="110.49" y1="485.72" x2="113.49" y2="485.72" stroke="#7A1414" stroke-width="0.9"/>
<line x1="110.49" y1="492.02" x2="113.49" y2="492.02" stroke="#7A1414" stroke-width="0.9"/>
<polygon points="109.59,490.37 114.39,490.37 111.99,486.97" fill="#7A1414"/>
<line x1="121.80" y1="487.29" x2="121.80" y2="493.60" stroke="#7A1414" stroke-width="0.9"/>
<line x1="120.30" y1="487.29" x2="123.30" y2="487.29" stroke="#7A1414" stroke-width="0.9"/>
<line x1="120.30" y1="493.60" x2="123.30" y2="493.60" stroke="#7A1414" stroke-width="0.9"/>
<polygon points="119.40,491.95 124.20,491.95 121.80,488.55" fill="#7A1414"/>
<line x1="132.20" y1="491.23" x2="132.20" y2="496.75" stroke="#7A1414" stroke-width="0.9"/>
<line x1="130.70" y1="491.23" x2="133.70" y2="491.23" stroke="#7A1414" stroke-width="0.9"/>
<line x1="130.70" y1="496.75" x2="133.70" y2="496.75" stroke="#7A1414" stroke-width="0.9"/>
<polygon points="129.80,495.49 134.60,495.49 132.20,492.09" fill="#7A1414"/>
<line x1="142.31" y1="490.45" x2="142.31" y2="495.96" stroke="#7A1414" stroke-width="0.9"/>
<line x1="140.81" y1="490.45" x2="143.81" y2="490.45" stroke="#7A1414" stroke-width="0.9"/>
<line x1="140.81" y1="495.96" x2="143.81" y2="495.96" stroke="#7A1414" stroke-width="0.9"/>
<polygon points="139.91,494.70 144.71,494.70 142.31,491.30" fill="#7A1414"/>
<line x1="151.98" y1="488.87" x2="151.98" y2="495.17" stroke="#7A1414" stroke-width="0.9"/>
<line x1="150.48" y1="488.87" x2="153.48" y2="488.87" stroke="#7A1414" stroke-width="0.9"/>
<line x1="150.48" y1="495.17" x2="153.48" y2="495.17" stroke="#7A1414" stroke-width="0.9"/>
<polygon points="149.58,493.52 154.38,493.52 151.98,490.12" fill="#7A1414"/>
<polyline points="41.81,500.30 51.77,502.66 61.44,502.27 72.28,497.54 82.10,496.36 91.62,495.96 101.88,499.51 111.99,495.57 121.80,495.57 132.20,497.14 142.31,497.54 151.98,496.36" fill="none" stroke="#2DBE2D" stroke-width="1.3"/>
<line x1="41.81" y1="497.93" x2="41.81" y2="502.66" stroke="#2DBE2D" stroke-width="0.9"/>
<line x1="40.31" y1="497.93" x2="43.31" y2="497.93" stroke="#2DBE2D" stroke-width="0.9"/>
<line x1="40.31" y1="502.66" x2="43.31" y2="502.66" stroke="#2DBE2D" stroke-width="0.9"/>
<polygon points="39.51,500.30 41.81,498.40 44.11,500.30 41.81,502.20" fill="#2DBE2D"/>
<line x1="51.77" y1="500.30" x2="51.77" y2="505.02" stroke="#2DBE2D" stroke-width="0.9"/>
<line x1="50.27" y1="500.30" x2="53.27" y2="500.30" stroke="#2DBE2D" stroke-width="0.9"/>
<line x1="50.27" y1="505.02" x2="53.27" y2="505.02" stroke="#2DBE2D" stroke-width="0.9"/>
<polygon points="49.47,502.66 51.77,500.76 54.07,502.66 51.77,504.56" fill="#2DBE2D"/>
<line x1="61.44" y1="499.90" x2="61.44" y2="504.63" stroke="#2DBE2D" stroke-width="0.9"/>
<line x1="59.94" y1="499.90" x2="62.94" y2="499.90" stroke="#2DBE2D" stroke-width="0.9"/>
<line x1="59.94" y1="504.63" x2="62.94" y2="504.63" stroke="#2DBE2D" stroke-width="0.9"/>
<polygon points="59.14,502.27 61.44,500.37 63.74,502.27 61.44,504.17" fill="#2DBE2D"/>
<line x1="72.28" y1="494.78" x2="72.28" y2="500.30" stroke="#2DBE2D" stroke-width="0.9"/>
<line x1="70.78" y1="494.78" x2="73.78" y2="494.78" stroke="#2DBE2D" stroke-width="0.9"/>
<line x1="70.78" y1="500.30" x2="73.78" y2="500.30" stroke="#2DBE2D" stroke-width="0.9"/>
<polygon points="69.98,497.54 72.28,495.64 74.58,497.54 72.28,499.44" fill="#2DBE2D"/>
<line x1="82.10" y1="493.60" x2="82.10" y2="499.11" stroke="#2DBE2D" stroke-width="0.9"/>
<line x1="80.60" y1="493.60" x2="83.60" y2="493.60" stroke="#2DBE2D" stroke-width="0.9"/>
<line x1="80.60" y1="499.11" x2="83.60" y2="499.11" stroke="#2DBE2D" stroke-width="0.9"/>
<polygon points="79.80,496.36 82.10,494.46 84.40,496.36 82.10,498.26" fill="#2DBE2D"/>
<line x1="91.62" y1="493.20" x2="91.62" y2="498.72" stroke="#2DBE2D" stroke-width="0.9"/>
<line x1="90.12" y1="493.20" x2="93.12" y2="493.20" stroke="#2DBE2D" stroke-width="0.9"/>
<line x1="90.12" y1="498.72" x2="93.12" y2="498.72" stroke="#2DBE2D" stroke-width="0.9"/>
<polygon points="89.32,495.96 91.62,494.06 93.92,495.96 91.62,497.86" fill="#2DBE2D"/>
<line x1="101.88" y1="494.39" x2="101.88" y2="504.63" stroke="#2DBE2D" stroke-width="0.9"/>
<line x1="100.38" y1="494.39" x2="103.38" y2="494.39" stroke="#2DBE2D" stroke-width="0.9"/>
<line x1="100.38" y1="504.63" x2="103.38" y2="504.63" stroke="#2DBE2D" stroke-width="0.9"/>
<polygon points="99.58,499.51 101.88,497.61 104.18,499.51 101.88,501.41" fill="#2DBE2D"/>
<line x1="111.99" y1="490.84" x2="111.99" y2="500.30" stroke="#2DBE2D" stroke-width="0.9"/>
<line x1="110.49" y1="490.84" x2="113.49" y2="490.84" stroke="#2DBE2D" stroke-width="0.9"/>
<line x1="110.49" y1="500.30" x2="113.49" y2="500.30" stroke="#2DBE2D" stroke-width="0.9"/>
<polygon points="109.69,495.57 111.99,493.67 114.29,495.57 111.99,497.47" fill="#2DBE2D"/>
<line x1="121.80" y1="491.63" x2="121.80" y2="499.51" stroke="#2DBE2D" stroke-width="0.9"/>
<line x1="120.30" y1="491.63" x2="123.30" y2="491.63" stroke="#2DBE2D" stroke-width="0.9"/>
<line x1="120.30" y1="499.51" x2="123.30" y2="499.51" stroke="#2DBE2D" stroke-width="0.9"/>
<polygon points="119.50,495.57 121.80,493.67 124.10,495.57 121.80,497.47" fill="#2DBE2D"/>
<line x1="132.20" y1="493.99" x2="132.20" y2="500.30" stroke="#2DBE2D" stroke-width="0.9"/>
<line x1="130.70" y1="493.99" x2="133.70" y2="493.99" stroke="#2DBE2D" stroke-width="0.9"/>
<line x1="130.70" y1="500.30" x2="133.70" y2="500.30" stroke="#2DBE2D" stroke-width="0.9"/>
<polygon points="129.90,497.14 132.20,495.24 134.50,497.14 132.20,499.04" fill="#2DBE2D"/>
<line x1="142.31" y1="494.78" x2="142.31" y2="500.30" stroke="#2DBE2D" stroke-width="0.9"/>
<line x1="140.81" y1="494.78" x2="143.81" y2="494.78" stroke="#2DBE2D" stroke-width="0.9"/>
<line x1="140.81" y1="500.30" x2="143.81" y2="500.30" stroke="#2DBE2D" stroke-width="0.9"/>
<polygon points="140.01,497.54 142.31,495.64 144.61,497.54 142.31,499.44" fill="#2DBE2D"/>
<line x1="151.98" y1="493.60" x2="151.98" y2="499.11" stroke="#2DBE2D" stroke-width="0.9"/>
<line x1="150.48" y1="493.60" x2="153.48" y2="493.60" stroke="#2DBE2D" stroke-width="0.9"/>
<line x1="150.48" y1="499.11" x2="153.48" y2="499.11" stroke="#2DBE2D" stroke-width="0.9"/>
<polygon points="149.68,496.36 151.98,494.46 154.28,496.36 151.98,498.26" fill="#2DBE2D"/>
<polyline points="41.81,487.29 51.77,490.84 61.44,489.66 72.28,480.20 82.10,485.72 91.62,486.51 101.88,480.60 111.99,477.44 121.80,478.23 132.20,485.72 142.31,482.96 151.98,482.17" fill="none" stroke="#1414F0" stroke-width="1.3"/>
<line x1="41.81" y1="484.54" x2="41.81" y2="490.05" stroke="#1414F0" stroke-width="0.9"/>
<line x1="40.31" y1="484.54" x2="43.31" y2="484.54" stroke="#1414F0" stroke-width="0.9"/>
<line x1="40.31" y1="490.05" x2="43.31" y2="490.05" stroke="#1414F0" stroke-width="0.9"/>
<circle cx="41.81" cy="487.29" r="2.25" fill="#1414F0"/>
<line x1="51.77" y1="488.48" x2="51.77" y2="493.20" stroke="#1414F0" stroke-width="0.9"/>
<line x1="50.27" y1="488.48" x2="53.27" y2="488.48" stroke="#1414F0" stroke-width="0.9"/>
<line x1="50.27" y1="493.20" x2="53.27" y2="493.20" stroke="#1414F0" stroke-width="0.9"/>
<circle cx="51.77" cy="490.84" r="2.25" fill="#1414F0"/>
<line x1="61.44" y1="487.29" x2="61.44" y2="492.02" stroke="#1414F0" stroke-width="0.9"/>
<line x1="59.94" y1="487.29" x2="62.94" y2="487.29" stroke="#1414F0" stroke-width="0.9"/>
<line x1="59.94" y1="492.02" x2="62.94" y2="492.02" stroke="#1414F0" stroke-width="0.9"/>
<circle cx="61.44" cy="489.66" r="2.25" fill="#1414F0"/>
<line x1="72.28" y1="477.44" x2="72.28" y2="482.96" stroke="#1414F0" stroke-width="0.9"/>
<line x1="70.78" y1="477.44" x2="73.78" y2="477.44" stroke="#1414F0" stroke-width="0.9"/>
<line x1="70.78" y1="482.96" x2="73.78" y2="482.96" stroke="#1414F0" stroke-width="0.9"/>
<circle cx="72.28" cy="480.20" r="2.25" fill="#1414F0"/>
<line x1="82.10" y1="482.96" x2="82.10" y2="488.48" stroke="#1414F0" stroke-width="0.9"/>
<line x1="80.60" y1="482.96" x2="83.60" y2="482.96" stroke="#1414F0" stroke-width="0.9"/>
<line x1="80.60" y1="488.48" x2="83.60" y2="488.48" stroke="#1414F0" stroke-width="0.9"/>
<circle cx="82.10" cy="485.72" r="2.25" fill="#1414F0"/>
<line x1="91.62" y1="483.75" x2="91.62" y2="489.26" stroke="#1414F0" stroke-width="0.9"/>
<line x1="90.12" y1="483.75" x2="93.12" y2="483.75" stroke="#1414F0" stroke-width="0.9"/>
<line x1="90.12" y1="489.26" x2="93.12" y2="489.26" stroke="#1414F0" stroke-width="0.9"/>
<circle cx="91.62" cy="486.51" r="2.25" fill="#1414F0"/>
<line x1="101.88" y1="476.66" x2="101.88" y2="484.54" stroke="#1414F0" stroke-width="0.9"/>
<line x1="100.38" y1="476.66" x2="103.38" y2="476.66" stroke="#1414F0" stroke-width="0.9"/>
<line x1="100.38" y1="484.54" x2="103.38" y2="484.54" stroke="#1414F0" stroke-width="0.9"/>
<circle cx="101.88" cy="480.60" r="2.25" fill="#1414F0"/>
<line x1="111.99" y1="473.90" x2="111.99" y2="480.99" stroke="#1414F0" stroke-width="0.9"/>
<line x1="110.49" y1="473.90" x2="113.49" y2="473.90" stroke="#1414F0" stroke-width="0.9"/>
<line x1="110.49" y1="480.99" x2="113.49" y2="480.99" stroke="#1414F0" stroke-width="0.9"/>
<circle cx="111.99" cy="477.44" r="2.25" fill="#1414F0"/>
<line x1="121.80" y1="474.69" x2="121.80" y2="481.78" stroke="#1414F0" stroke-width="0.9"/>
<line x1="120.30" y1="474.69" x2="123.30" y2="474.69" stroke="#1414F0" stroke-width="0.9"/>
<line x1="120.30" y1="481.78" x2="123.30" y2="481.78" stroke="#1414F0" stroke-width="0.9"/>
<circle cx="121.80" cy="478.23" r="2.25" fill="#1414F0"/>
<line x1="132.20" y1="482.57" x2="132.20" y2="488.87" stroke="#1414F0" stroke-width="0.9"/>
<line x1="130.70" y1="482.57" x2="133.70" y2="482.57" stroke="#1414F0" stroke-width="0.9"/>
<line x1="130.70" y1="488.87" x2="133.70" y2="488.87" stroke="#1414F0" stroke-width="0.9"/>
<circle cx="132.20" cy="485.72" r="2.25" fill="#1414F0"/>
<line x1="142.31" y1="480.20" x2="142.31" y2="485.72" stroke="#1414F0" stroke-width="0.9"/>
<line x1="140.81" y1="480.20" x2="143.81" y2="480.20" stroke="#1414F0" stroke-width="0.9"/>
<line x1="140.81" y1="485.72" x2="143.81" y2="485.72" stroke="#1414F0" stroke-width="0.9"/>
<circle cx="142.31" cy="482.96" r="2.25" fill="#1414F0"/>
<line x1="151.98" y1="479.41" x2="151.98" y2="484.93" stroke="#1414F0" stroke-width="0.9"/>
<line x1="150.48" y1="479.41" x2="153.48" y2="479.41" stroke="#1414F0" stroke-width="0.9"/>
<line x1="150.48" y1="484.93" x2="153.48" y2="484.93" stroke="#1414F0" stroke-width="0.9"/>
<circle cx="151.98" cy="482.17" r="2.25" fill="#1414F0"/>
<polyline points="41.81,478.63 51.77,488.08 61.44,485.32 72.28,465.62 82.10,471.93 91.62,477.05 101.88,469.17 111.99,460.11 121.80,460.90 132.20,467.59 142.31,467.20 151.98,466.41" fill="none" stroke="#F01E1E" stroke-width="1.3"/>
<line x1="41.81" y1="473.90" x2="41.81" y2="483.35" stroke="#F01E1E" stroke-width="0.9"/>
<line x1="40.31" y1="473.90" x2="43.31" y2="473.90" stroke="#F01E1E" stroke-width="0.9"/>
<line x1="40.31" y1="483.35" x2="43.31" y2="483.35" stroke="#F01E1E" stroke-width="0.9"/>
<polygon points="39.41,477.13 44.21,477.13 41.81,480.53" fill="#F01E1E"/>
<line x1="51.77" y1="485.72" x2="51.77" y2="490.45" stroke="#F01E1E" stroke-width="0.9"/>
<line x1="50.27" y1="485.72" x2="53.27" y2="485.72" stroke="#F01E1E" stroke-width="0.9"/>
<line x1="50.27" y1="490.45" x2="53.27" y2="490.45" stroke="#F01E1E" stroke-width="0.9"/>
<polygon points="49.37,486.58 54.17,486.58 51.77,489.98" fill="#F01E1E"/>
<line x1="61.44" y1="482.57" x2="61.44" y2="488.08" stroke="#F01E1E" stroke-width="0.9"/>
<line x1="59.94" y1="482.57" x2="62.94" y2="482.57" stroke="#F01E1E" stroke-width="0.9"/>
<line x1="59.94" y1="488.08" x2="62.94" y2="488.08" stroke="#F01E1E" stroke-width="0.9"/>
<polygon points="59.04,483.82 63.84,483.82 61.44,487.22" fill="#F01E1E"/>
<line x1="72.28" y1="462.87" x2="72.28" y2="468.38" stroke="#F01E1E" stroke-width="0.9"/>
<line x1="70.78" y1="462.87" x2="73.78" y2="462.87" stroke="#F01E1E" stroke-width="0.9"/>
<line x1="70.78" y1="468.38" x2="73.78" y2="468.38" stroke="#F01E1E" stroke-width="0.9"/>
<polygon points="69.88,464.12 74.68,464.12 72.28,467.52" fill="#F01E1E"/>
<line x1="82.10" y1="469.56" x2="82.10" y2="474.29" stroke="#F01E1E" stroke-width="0.9"/>
<line x1="80.60" y1="469.56" x2="83.60" y2="469.56" stroke="#F01E1E" stroke-width="0.9"/>
<line x1="80.60" y1="474.29" x2="83.60" y2="474.29" stroke="#F01E1E" stroke-width="0.9"/>
<polygon points="79.70,470.43 84.50,470.43 82.10,473.83" fill="#F01E1E"/>
<line x1="91.62" y1="473.90" x2="91.62" y2="480.20" stroke="#F01E1E" stroke-width="0.9"/>
<line x1="90.12" y1="473.90" x2="93.12" y2="473.90" stroke="#F01E1E" stroke-width="0.9"/>
<line x1="90.12" y1="480.20" x2="93.12" y2="480.20" stroke="#F01E1E" stroke-width="0.9"/>
<polygon points="89.22,475.55 94.02,475.55 91.62,478.95" fill="#F01E1E"/>
<line x1="101.88" y1="466.02" x2="101.88" y2="472.32" stroke="#F01E1E" stroke-width="0.9"/>
<line x1="100.38" y1="466.02" x2="103.38" y2="466.02" stroke="#F01E1E" stroke-width="0.9"/>
<line x1="100.38" y1="472.32" x2="103.38" y2="472.32" stroke="#F01E1E" stroke-width="0.9"/>
<polygon points="99.48,467.67 104.28,467.67 101.88,471.07" fill="#F01E1E"/>
<line x1="111.99" y1="456.96" x2="111.99" y2="463.26" stroke="#F01E1E" stroke-width="0.9"/>
<line x1="110.49" y1="456.96" x2="113.49" y2="456.96" stroke="#F01E1E" stroke-width="0.9"/>
<line x1="110.49" y1="463.26" x2="113.49" y2="463.26" stroke="#F01E1E" stroke-width="0.9"/>
<polygon points="109.59,458.61 114.39,458.61 111.99,462.01" fill="#F01E1E"/>
<line x1="121.80" y1="457.74" x2="121.80" y2="464.05" stroke="#F01E1E" stroke-width="0.9"/>
<line x1="120.30" y1="457.74" x2="123.30" y2="457.74" stroke="#F01E1E" stroke-width="0.9"/>
<line x1="120.30" y1="464.05" x2="123.30" y2="464.05" stroke="#F01E1E" stroke-width="0.9"/>
<polygon points="119.40,459.40 124.20,459.40 121.80,462.80" fill="#F01E1E"/>
<line x1="132.20" y1="464.44" x2="132.20" y2="470.75" stroke="#F01E1E" stroke-width="0.9"/>
<line x1="130.70" y1="464.44" x2="133.70" y2="464.44" stroke="#F01E1E" stroke-width="0.9"/>
<line x1="130.70" y1="470.75" x2="133.70" y2="470.75" stroke="#F01E1E" stroke-width="0.9"/>
<polygon points="129.80,466.09 134.60,466.09 132.20,469.49" fill="#F01E1E"/>
<line x1="142.31" y1="464.05" x2="142.31" y2="470.35" stroke="#F01E1E" stroke-width="0.9"/>
<line x1="140.81" y1="464.05" x2="143.81" y2="464.05" stroke="#F01E1E" stroke-width="0.9"/>
<line x1="140.81" y1="470.35" x2="143.81" y2="470.35" stroke="#F01E1E" stroke-width="0.9"/>
<polygon points="139.91,465.70 144.71,465.70 142.31,469.10" fill="#F01E1E"/>
<line x1="151.98" y1="463.26" x2="151.98" y2="469.56" stroke="#F01E1E" stroke-width="0.9"/>
<line x1="150.48" y1="463.26" x2="153.48" y2="463.26" stroke="#F01E1E" stroke-width="0.9"/>
<line x1="150.48" y1="469.56" x2="153.48" y2="469.56" stroke="#F01E1E" stroke-width="0.9"/>
<polygon points="149.58,464.91 154.38,464.91 151.98,468.31" fill="#F01E1E"/>
<line x1="40.20" y1="447.00" x2="40.20" y2="526.80" stroke="#333" stroke-width="1.3"/>
<line x1="38.20" y1="526.30" x2="40.20" y2="526.30" stroke="#333" stroke-width="1.1"/>
<text x="37.90" y="528.60" font-size="6.5" font-weight="bold" text-anchor="end" fill="#2a2a2a" stroke="#2a2a2a" stroke-width="0.08">0</text>
<line x1="38.20" y1="506.60" x2="40.20" y2="506.60" stroke="#333" stroke-width="1.1"/>
<text x="37.90" y="508.90" font-size="6.5" font-weight="bold" text-anchor="end" fill="#2a2a2a" stroke="#2a2a2a" stroke-width="0.08">50</text>
<line x1="38.20" y1="486.90" x2="40.20" y2="486.90" stroke="#333" stroke-width="1.1"/>
<text x="37.90" y="489.20" font-size="6.5" font-weight="bold" text-anchor="end" fill="#2a2a2a" stroke="#2a2a2a" stroke-width="0.08">100</text>
<line x1="38.20" y1="467.20" x2="40.20" y2="467.20" stroke="#333" stroke-width="1.1"/>
<text x="37.90" y="469.50" font-size="6.5" font-weight="bold" text-anchor="end" fill="#2a2a2a" stroke="#2a2a2a" stroke-width="0.08">150</text>
<line x1="38.20" y1="447.50" x2="40.20" y2="447.50" stroke="#333" stroke-width="1.1"/>
<text x="37.90" y="449.80" font-size="6.5" font-weight="bold" text-anchor="end" fill="#2a2a2a" stroke="#2a2a2a" stroke-width="0.08">200</text>
<line x1="39.60" y1="526.30" x2="157.90" y2="526.30" stroke="#333" stroke-width="1.3"/>
<line x1="40.20" y1="526.30" x2="40.20" y2="528.30" stroke="#333" stroke-width="1.1"/>
<text x="40.20" y="534.50" font-size="6.5" font-weight="bold" text-anchor="middle" fill="#2a2a2a" stroke="#2a2a2a" stroke-width="0.08">0</text>
<line x1="69.50" y1="526.30" x2="69.50" y2="528.30" stroke="#333" stroke-width="1.1"/>
<text x="69.50" y="534.50" font-size="6.5" font-weight="bold" text-anchor="middle" fill="#2a2a2a" stroke="#2a2a2a" stroke-width="0.08">20</text>
<line x1="98.80" y1="526.30" x2="98.80" y2="528.30" stroke="#333" stroke-width="1.1"/>
<text x="98.80" y="534.50" font-size="6.5" font-weight="bold" text-anchor="middle" fill="#2a2a2a" stroke="#2a2a2a" stroke-width="0.08">40</text>
<line x1="128.10" y1="526.30" x2="128.10" y2="528.30" stroke="#333" stroke-width="1.1"/>
<text x="128.10" y="534.50" font-size="6.5" font-weight="bold" text-anchor="middle" fill="#2a2a2a" stroke="#2a2a2a" stroke-width="0.08">60</text>
<line x1="157.40" y1="526.30" x2="157.40" y2="528.30" stroke="#333" stroke-width="1.1"/>
<text x="157.40" y="534.50" font-size="6.5" font-weight="bold" text-anchor="middle" fill="#2a2a2a" stroke="#2a2a2a" stroke-width="0.08">80</text>
<text x="53.00" y="442.80" font-size="6.8" fill="#2a2a2a" stroke="#2a2a2a" stroke-width="0.14" textLength="29.60" lengthAdjust="spacingAndGlyphs">Oligomycin</text>
<text x="91.00" y="442.80" font-size="6.8" fill="#2a2a2a" stroke="#2a2a2a" stroke-width="0.14" textLength="13.00" lengthAdjust="spacingAndGlyphs">DNP</text>
<text x="110.10" y="442.80" font-size="6.8" fill="#2a2a2a" stroke="#2a2a2a" stroke-width="0.14" textLength="33.20" lengthAdjust="spacingAndGlyphs">Antimycin A</text>
<line x1="163.40" y1="449.50" x2="168.40" y2="449.50" stroke="#2DBE2D" stroke-width="1.2"/>
<polygon points="163.60,449.50 165.90,447.60 168.20,449.50 165.90,451.40" fill="#2DBE2D"/>
<text x="170.70" y="451.90" font-size="6.8" fill="#2a2a2a" stroke="#2a2a2a" stroke-width="0.14">US</text>
<line x1="163.40" y1="458.60" x2="168.40" y2="458.60" stroke="#1414F0" stroke-width="1.2"/>
<circle cx="165.90" cy="458.60" r="2.25" fill="#1414F0"/>
<text x="170.70" y="461.00" font-size="6.8" fill="#2a2a2a" stroke="#2a2a2a" stroke-width="0.14">UP</text>
<line x1="163.40" y1="467.70" x2="168.40" y2="467.70" stroke="#F01E1E" stroke-width="1.2"/>
<polygon points="163.50,466.20 168.30,466.20 165.90,469.60" fill="#F01E1E"/>
<text x="170.70" y="470.10" font-size="6.8" fill="#2a2a2a" stroke="#2a2a2a" stroke-width="0.14">ULP</text>
<line x1="163.40" y1="476.50" x2="168.40" y2="476.50" stroke="#7A1414" stroke-width="1.2"/>
<polygon points="163.50,478.00 168.30,478.00 165.90,474.60" fill="#7A1414"/>
<text x="170.70" y="478.90" font-size="6.8" fill="#2a2a2a" stroke="#2a2a2a" stroke-width="0.14">HP</text>
<text x="99.10" y="546.00" font-size="7.8" text-anchor="middle" fill="#2a2a2a" stroke="#2a2a2a" stroke-width="0.14" textLength="33.80" lengthAdjust="spacingAndGlyphs">Time (min)</text>
<text x="13.30" y="484.90" font-size="8.3" text-anchor="middle" fill="#2a2a2a" stroke="#2a2a2a" stroke-width="0.14" textLength="19.80" lengthAdjust="spacingAndGlyphs" transform="rotate(-90 13.30 484.90)">ECAR</text>
<text x="21.70" y="485.20" font-size="7.2" text-anchor="middle" fill="#2a2a2a" stroke="#2a2a2a" stroke-width="0.14" textLength="81.60" lengthAdjust="spacingAndGlyphs" transform="rotate(-90 21.70 485.20)">(mpH/min per cell density)</text>
<line x1="238.00" y1="229.40" x2="238.00" y2="214.40" stroke="#333" stroke-width="1"/>
<line x1="235.99" y1="214.40" x2="240.01" y2="214.40" stroke="#333" stroke-width="1.3"/>
<rect x="234.20" y="229.40" width="7.60" height="21.10" fill="#fff" stroke="#333" stroke-width="1"/>
<path d="M236.80,212.15L237.50,207.05M238.50,212.15L239.20,207.05M236.00,208.65L240.00,208.65M236.00,210.55L240.00,210.55" stroke="#262626" stroke-width="0.85" fill="none"/>
<line x1="249.90" y1="229.50" x2="249.90" y2="205.20" stroke="#333" stroke-width="1"/>
<line x1="247.94" y1="205.20" x2="251.86" y2="205.20" stroke="#333" stroke-width="1.3"/>
<rect x="246.20" y="229.50" width="7.40" height="21.00" fill="url(#hat)" stroke="#333" stroke-width="1"/>
<path d="M248.70,202.95L249.40,197.85M250.40,202.95L251.10,197.85M247.90,199.45L251.90,199.45M247.90,201.35L251.90,201.35" stroke="#262626" stroke-width="0.85" fill="none"/>
<line x1="269.55" y1="209.10" x2="269.55" y2="196.90" stroke="#333" stroke-width="1"/>
<line x1="267.40" y1="196.90" x2="271.70" y2="196.90" stroke="#333" stroke-width="1.3"/>
<rect x="265.50" y="209.10" width="8.10" height="41.40" fill="#fff" stroke="#333" stroke-width="1"/>
<line x1="281.20" y1="214.50" x2="281.20" y2="195.10" stroke="#333" stroke-width="1"/>
<line x1="279.13" y1="195.10" x2="283.27" y2="195.10" stroke="#333" stroke-width="1.3"/>
<rect x="277.30" y="214.50" width="7.80" height="36.00" fill="url(#hat)" stroke="#333" stroke-width="1"/>
<line x1="301.10" y1="197.80" x2="301.10" y2="185.10" stroke="#333" stroke-width="1"/>
<line x1="299.09" y1="185.10" x2="303.11" y2="185.10" stroke="#333" stroke-width="1.3"/>
<rect x="297.30" y="197.80" width="7.60" height="52.70" fill="#fff" stroke="#333" stroke-width="1"/>
<path d="M299.90,182.85L300.60,177.75M301.60,182.85L302.30,177.75M299.10,179.35L303.10,179.35M299.10,181.25L303.10,181.25" stroke="#262626" stroke-width="0.85" fill="none"/>
<line x1="312.70" y1="200.90" x2="312.70" y2="173.30" stroke="#333" stroke-width="1"/>
<line x1="310.58" y1="173.30" x2="314.82" y2="173.30" stroke="#333" stroke-width="1.3"/>
<rect x="308.70" y="200.90" width="8.00" height="49.60" fill="url(#hat)" stroke="#333" stroke-width="1"/>
<path d="M311.50,171.05L312.20,165.95M313.20,171.05L313.90,165.95M310.70,167.55L314.70,167.55M310.70,169.45L314.70,169.45" stroke="#262626" stroke-width="0.85" fill="none"/>
<line x1="332.45" y1="228.70" x2="332.45" y2="216.40" stroke="#333" stroke-width="1"/>
<line x1="330.36" y1="216.40" x2="334.54" y2="216.40" stroke="#333" stroke-width="1.3"/>
<rect x="328.50" y="228.70" width="7.90" height="21.80" fill="#fff" stroke="#333" stroke-width="1"/>
<path d="M331.25,214.15L331.95,209.05M332.95,214.15L333.65,209.05M330.45,210.65L334.45,210.65M330.45,212.55L334.45,212.55" stroke="#262626" stroke-width="0.85" fill="none"/>
<line x1="344.10" y1="232.20" x2="344.10" y2="219.60" stroke="#333" stroke-width="1"/>
<line x1="341.93" y1="219.60" x2="346.27" y2="219.60" stroke="#333" stroke-width="1.3"/>
<rect x="340.00" y="232.20" width="8.20" height="18.30" fill="url(#hat)" stroke="#333" stroke-width="1"/>
<path d="M342.90,217.35L343.60,212.25M344.60,217.35L345.30,212.25M342.10,213.85L346.10,213.85M342.10,215.75L346.10,215.75" stroke="#262626" stroke-width="0.85" fill="none"/>
<line x1="228.10" y1="166.80" x2="228.10" y2="251.00" stroke="#333" stroke-width="1.3"/>
<line x1="226.10" y1="250.50" x2="228.10" y2="250.50" stroke="#333" stroke-width="1.1"/>
<text x="225.80" y="252.80" font-size="6.5" font-weight="bold" text-anchor="end" fill="#2a2a2a" stroke="#2a2a2a" stroke-width="0.08">0</text>
<line x1="226.10" y1="229.70" x2="228.10" y2="229.70" stroke="#333" stroke-width="1.1"/>
<text x="225.80" y="232.00" font-size="6.5" font-weight="bold" text-anchor="end" fill="#2a2a2a" stroke="#2a2a2a" stroke-width="0.08">100</text>
<line x1="226.10" y1="208.90" x2="228.10" y2="208.90" stroke="#333" stroke-width="1.1"/>
<text x="225.80" y="211.20" font-size="6.5" font-weight="bold" text-anchor="end" fill="#2a2a2a" stroke="#2a2a2a" stroke-width="0.08">200</text>
<line x1="226.10" y1="188.10" x2="228.10" y2="188.10" stroke="#333" stroke-width="1.1"/>
<text x="225.80" y="190.40" font-size="6.5" font-weight="bold" text-anchor="end" fill="#2a2a2a" stroke="#2a2a2a" stroke-width="0.08">300</text>
<line x1="226.10" y1="167.30" x2="228.10" y2="167.30" stroke="#333" stroke-width="1.1"/>
<text x="225.80" y="169.60" font-size="6.5" font-weight="bold" text-anchor="end" fill="#2a2a2a" stroke="#2a2a2a" stroke-width="0.08">400</text>
<line x1="227.50" y1="250.50" x2="354.50" y2="250.50" stroke="#333" stroke-width="1.3"/>
<line x1="243.80" y1="250.50" x2="243.80" y2="252.30" stroke="#333" stroke-width="1.1"/>
<text x="246.10" y="258.50" font-size="7.1" text-anchor="end" fill="#2a2a2a" stroke="#2a2a2a" stroke-width="0.14" transform="rotate(-45 246.10 258.50)">US</text>
<line x1="275.50" y1="250.50" x2="275.50" y2="252.30" stroke="#333" stroke-width="1.1"/>
<text x="277.80" y="258.50" font-size="7.1" text-anchor="end" fill="#2a2a2a" stroke="#2a2a2a" stroke-width="0.14" transform="rotate(-45 277.80 258.50)">UP</text>
<line x1="306.70" y1="250.50" x2="306.70" y2="252.30" stroke="#333" stroke-width="1.1"/>
<text x="309.00" y="258.50" font-size="7.1" text-anchor="end" fill="#2a2a2a" stroke="#2a2a2a" stroke-width="0.14" transform="rotate(-45 309.00 258.50)">ULP</text>
<line x1="338.20" y1="250.50" x2="338.20" y2="252.30" stroke="#333" stroke-width="1.1"/>
<text x="340.50" y="258.50" font-size="7.1" text-anchor="end" fill="#2a2a2a" stroke="#2a2a2a" stroke-width="0.14" transform="rotate(-45 340.50 258.50)">HP</text>
<text x="199.80" y="207.20" font-size="8.3" text-anchor="middle" fill="#2a2a2a" stroke="#2a2a2a" stroke-width="0.14" textLength="16.00" lengthAdjust="spacingAndGlyphs" transform="rotate(-90 199.80 207.20)">OCR</text>
<text x="209.00" y="208.60" font-size="7.2" text-anchor="middle" fill="#2a2a2a" stroke="#2a2a2a" stroke-width="0.14" textLength="94.50" lengthAdjust="spacingAndGlyphs" transform="rotate(-90 209.00 208.60)">(pmol/min per cell density)</text>
<rect x="354.50" y="168.60" width="4.40" height="4.90" fill="#fff" stroke="#333" stroke-width="0.9"/>
<text x="361.50" y="173.60" font-size="6.6" fill="#2a2a2a" stroke="#2a2a2a" stroke-width="0.14" textLength="16.40" lengthAdjust="spacingAndGlyphs">Basal</text>
<rect x="354.50" y="178.50" width="4.40" height="4.80" fill="url(#hat)" stroke="#333" stroke-width="0.9"/>
<text x="361.50" y="183.00" font-size="6.6" fill="#2a2a2a" stroke="#2a2a2a" stroke-width="0.14">DNP</text>
<line x1="237.50" y1="506.00" x2="237.50" y2="494.50" stroke="#333" stroke-width="1"/>
<line x1="235.33" y1="494.50" x2="239.67" y2="494.50" stroke="#333" stroke-width="1.3"/>
<rect x="233.40" y="506.00" width="8.20" height="20.40" fill="#fff" stroke="#333" stroke-width="1"/>
<path d="M236.30,491.85L237.00,486.75M238.00,491.85L238.70,486.75M235.50,488.35L239.50,488.35M235.50,490.25L239.50,490.25" stroke="#262626" stroke-width="0.85" fill="none"/>
<line x1="249.50" y1="502.70" x2="249.50" y2="480.30" stroke="#333" stroke-width="1"/>
<line x1="247.49" y1="480.30" x2="251.51" y2="480.30" stroke="#333" stroke-width="1.3"/>
<rect x="245.70" y="502.70" width="7.60" height="23.70" fill="url(#hat)" stroke="#333" stroke-width="1"/>
<path d="M248.30,477.65L249.00,472.55M250.00,477.65L250.70,472.55M247.50,474.15L251.50,474.15M247.50,476.05L251.50,476.05" stroke="#262626" stroke-width="0.85" fill="none"/>
<line x1="269.10" y1="495.20" x2="269.10" y2="482.30" stroke="#333" stroke-width="1"/>
<line x1="267.03" y1="482.30" x2="271.17" y2="482.30" stroke="#333" stroke-width="1.3"/>
<rect x="265.20" y="495.20" width="7.80" height="31.20" fill="#fff" stroke="#333" stroke-width="1"/>
<line x1="280.75" y1="486.40" x2="280.75" y2="466.80" stroke="#333" stroke-width="1"/>
<line x1="278.76" y1="466.80" x2="282.74" y2="466.80" stroke="#333" stroke-width="1.3"/>
<rect x="277.00" y="486.40" width="7.50" height="40.00" fill="url(#hat)" stroke="#333" stroke-width="1"/>
<line x1="300.35" y1="490.20" x2="300.35" y2="473.60" stroke="#333" stroke-width="1"/>
<line x1="298.26" y1="473.60" x2="302.44" y2="473.60" stroke="#333" stroke-width="1.3"/>
<rect x="296.40" y="490.20" width="7.90" height="36.20" fill="#fff" stroke="#333" stroke-width="1"/>
<line x1="312.15" y1="473.20" x2="312.15" y2="454.50" stroke="#333" stroke-width="1"/>
<line x1="310.06" y1="454.50" x2="314.24" y2="454.50" stroke="#333" stroke-width="1.3"/>
<rect x="308.20" y="473.20" width="7.90" height="53.20" fill="url(#hat)" stroke="#333" stroke-width="1"/>
<path d="M310.95,451.85L311.65,446.75M312.65,451.85L313.35,446.75M310.15,448.35L314.15,448.35M310.15,450.25L314.15,450.25" stroke="#262626" stroke-width="0.85" fill="none"/>
<line x1="331.95" y1="501.10" x2="331.95" y2="485.00" stroke="#333" stroke-width="1"/>
<line x1="329.96" y1="485.00" x2="333.94" y2="485.00" stroke="#333" stroke-width="1.3"/>
<rect x="328.20" y="501.10" width="7.50" height="25.30" fill="#fff" stroke="#333" stroke-width="1"/>
<line x1="344.00" y1="495.20" x2="344.00" y2="476.10" stroke="#333" stroke-width="1"/>
<line x1="341.88" y1="476.10" x2="346.12" y2="476.10" stroke="#333" stroke-width="1.3"/>
<rect x="340.00" y="495.20" width="8.00" height="31.20" fill="url(#hat)" stroke="#333" stroke-width="1"/>
<path d="M342.80,473.45L343.50,468.35M344.50,473.45L345.20,468.35M342.00,469.95L346.00,469.95M342.00,471.85L346.00,471.85" stroke="#262626" stroke-width="0.85" fill="none"/>
<line x1="227.50" y1="441.65" x2="227.50" y2="526.90" stroke="#333" stroke-width="1.3"/>
<line x1="225.50" y1="526.40" x2="227.50" y2="526.40" stroke="#333" stroke-width="1.1"/>
<text x="225.20" y="528.70" font-size="6.5" font-weight="bold" text-anchor="end" fill="#2a2a2a" stroke="#2a2a2a" stroke-width="0.08">0</text>
<line x1="225.50" y1="509.55" x2="227.50" y2="509.55" stroke="#333" stroke-width="1.1"/>
<text x="225.20" y="511.85" font-size="6.5" font-weight="bold" text-anchor="end" fill="#2a2a2a" stroke="#2a2a2a" stroke-width="0.08">50</text>
<line x1="225.50" y1="492.70" x2="227.50" y2="492.70" stroke="#333" stroke-width="1.1"/>
<text x="225.20" y="495.00" font-size="6.5" font-weight="bold" text-anchor="end" fill="#2a2a2a" stroke="#2a2a2a" stroke-width="0.08">100</text>
<line x1="225.50" y1="475.85" x2="227.50" y2="475.85" stroke="#333" stroke-width="1.1"/>
<text x="225.20" y="478.15" font-size="6.5" font-weight="bold" text-anchor="end" fill="#2a2a2a" stroke="#2a2a2a" stroke-width="0.08">150</text>
<line x1="225.50" y1="459.00" x2="227.50" y2="459.00" stroke="#333" stroke-width="1.1"/>
<text x="225.20" y="461.30" font-size="6.5" font-weight="bold" text-anchor="end" fill="#2a2a2a" stroke="#2a2a2a" stroke-width="0.08">200</text>
<line x1="225.50" y1="442.15" x2="227.50" y2="442.15" stroke="#333" stroke-width="1.1"/>
<text x="225.20" y="444.45" font-size="6.5" font-weight="bold" text-anchor="end" fill="#2a2a2a" stroke="#2a2a2a" stroke-width="0.08">250</text>
<line x1="226.90" y1="526.40" x2="353.60" y2="526.40" stroke="#333" stroke-width="1.3"/>
<line x1="243.50" y1="526.40" x2="243.50" y2="528.20" stroke="#333" stroke-width="1.1"/>
<text x="245.80" y="534.40" font-size="7.1" text-anchor="end" fill="#2a2a2a" stroke="#2a2a2a" stroke-width="0.14" transform="rotate(-45 245.80 534.40)">US</text>
<line x1="275.10" y1="526.40" x2="275.10" y2="528.20" stroke="#333" stroke-width="1.1"/>
<text x="277.40" y="534.40" font-size="7.1" text-anchor="end" fill="#2a2a2a" stroke="#2a2a2a" stroke-width="0.14" transform="rotate(-45 277.40 534.40)">UP</text>
<line x1="306.30" y1="526.40" x2="306.30" y2="528.20" stroke="#333" stroke-width="1.1"/>
<text x="308.60" y="534.40" font-size="7.1" text-anchor="end" fill="#2a2a2a" stroke="#2a2a2a" stroke-width="0.14" transform="rotate(-45 308.60 534.40)">ULP</text>
<line x1="337.90" y1="526.40" x2="337.90" y2="528.20" stroke="#333" stroke-width="1.1"/>
<text x="340.20" y="534.40" font-size="7.1" text-anchor="end" fill="#2a2a2a" stroke="#2a2a2a" stroke-width="0.14" transform="rotate(-45 340.20 534.40)">HP</text>
<text x="198.90" y="483.00" font-size="8.3" text-anchor="middle" fill="#2a2a2a" stroke="#2a2a2a" stroke-width="0.14" textLength="19.50" lengthAdjust="spacingAndGlyphs" transform="rotate(-90 198.90 483.00)">ECAR</text>
<text x="209.20" y="483.50" font-size="7.2" text-anchor="middle" fill="#2a2a2a" stroke="#2a2a2a" stroke-width="0.14" textLength="92.50" lengthAdjust="spacingAndGlyphs" transform="rotate(-90 209.20 483.50)">(mpH/min per cell density)</text>
<rect x="354.00" y="444.60" width="4.30" height="4.30" fill="#fff" stroke="#333" stroke-width="0.9"/>
<text x="361.10" y="448.90" font-size="6.6" fill="#2a2a2a" stroke="#2a2a2a" stroke-width="0.14" textLength="16.40" lengthAdjust="spacingAndGlyphs">Basal</text>
<rect x="354.00" y="454.40" width="4.30" height="4.30" fill="url(#hat)" stroke="#333" stroke-width="0.9"/>
<text x="361.10" y="458.80" font-size="6.6" fill="#2a2a2a" stroke="#2a2a2a" stroke-width="0.14">DNP</text>
<text x="449.80" y="154.60" font-size="8.4" font-weight="bold" fill="#2a2a2a" stroke="#2a2a2a" stroke-width="0.08" textLength="63.40" lengthAdjust="spacingAndGlyphs">ATP production</text>
<line x1="434.85" y1="233.20" x2="434.85" y2="217.50" stroke="#333" stroke-width="1"/>
<line x1="429.42" y1="217.50" x2="440.28" y2="217.50" stroke="#333" stroke-width="1.3"/>
<rect x="424.60" y="233.20" width="20.50" height="16.80" fill="#fff" stroke="#333" stroke-width="1"/>
<path d="M433.65,213.95L434.35,208.85M435.35,213.95L436.05,208.85M432.85,210.45L436.85,210.45M432.85,212.35L436.85,212.35" stroke="#262626" stroke-width="0.85" fill="none"/>
<line x1="466.65" y1="209.20" x2="466.65" y2="194.50" stroke="#333" stroke-width="1"/>
<line x1="461.22" y1="194.50" x2="472.08" y2="194.50" stroke="#333" stroke-width="1.3"/>
<rect x="456.40" y="209.20" width="20.50" height="40.80" fill="#9d9ca1" stroke="#333" stroke-width="1"/>
<line x1="498.15" y1="192.30" x2="498.15" y2="178.10" stroke="#333" stroke-width="1"/>
<line x1="492.66" y1="178.10" x2="503.64" y2="178.10" stroke="#333" stroke-width="1.3"/>
<rect x="487.80" y="192.30" width="20.70" height="57.70" fill="#fff" stroke="#333" stroke-width="1"/>
<path d="M496.95,174.55L497.65,169.45M498.65,174.55L499.35,169.45M496.15,171.05L500.15,171.05M496.15,172.95L500.15,172.95" stroke="#262626" stroke-width="0.85" fill="none"/>
<line x1="529.95" y1="229.20" x2="529.95" y2="217.40" stroke="#333" stroke-width="1"/>
<line x1="524.41" y1="217.40" x2="535.49" y2="217.40" stroke="#333" stroke-width="1.3"/>
<rect x="519.50" y="229.20" width="20.90" height="20.80" fill="#fff" stroke="#333" stroke-width="1"/>
<path d="M528.75,213.85L529.45,208.75M530.45,213.85L531.15,208.75M527.95,210.35L531.95,210.35M527.95,212.25L531.95,212.25" stroke="#262626" stroke-width="0.85" fill="none"/>
<line x1="419.00" y1="166.20" x2="419.00" y2="250.50" stroke="#333" stroke-width="1.3"/>
<line x1="417.00" y1="250.00" x2="419.00" y2="250.00" stroke="#333" stroke-width="1.1"/>
<text x="416.70" y="252.30" font-size="6.5" font-weight="bold" text-anchor="end" fill="#2a2a2a" stroke="#2a2a2a" stroke-width="0.08">0</text>
<line x1="417.00" y1="229.18" x2="419.00" y2="229.18" stroke="#333" stroke-width="1.1"/>
<text x="416.70" y="231.48" font-size="6.5" font-weight="bold" text-anchor="end" fill="#2a2a2a" stroke="#2a2a2a" stroke-width="0.08">50</text>
<line x1="417.00" y1="208.35" x2="419.00" y2="208.35" stroke="#333" stroke-width="1.1"/>
<text x="416.70" y="210.65" font-size="6.5" font-weight="bold" text-anchor="end" fill="#2a2a2a" stroke="#2a2a2a" stroke-width="0.08">100</text>
<line x1="417.00" y1="187.53" x2="419.00" y2="187.53" stroke="#333" stroke-width="1.1"/>
<text x="416.70" y="189.83" font-size="6.5" font-weight="bold" text-anchor="end" fill="#2a2a2a" stroke="#2a2a2a" stroke-width="0.08">150</text>
<line x1="417.00" y1="166.70" x2="419.00" y2="166.70" stroke="#333" stroke-width="1.1"/>
<text x="416.70" y="169.00" font-size="6.5" font-weight="bold" text-anchor="end" fill="#2a2a2a" stroke="#2a2a2a" stroke-width="0.08">200</text>
<line x1="418.40" y1="250.00" x2="546.40" y2="250.00" stroke="#333" stroke-width="1.3"/>
<line x1="434.85" y1="250.00" x2="434.85" y2="251.80" stroke="#333" stroke-width="1.1"/>
<text x="437.15" y="258.00" font-size="7.1" text-anchor="end" fill="#2a2a2a" stroke="#2a2a2a" stroke-width="0.14" transform="rotate(-45 437.15 258.00)">US</text>
<line x1="466.65" y1="250.00" x2="466.65" y2="251.80" stroke="#333" stroke-width="1.1"/>
<text x="468.95" y="258.00" font-size="7.1" text-anchor="end" fill="#2a2a2a" stroke="#2a2a2a" stroke-width="0.14" transform="rotate(-45 468.95 258.00)">UP</text>
<line x1="498.15" y1="250.00" x2="498.15" y2="251.80" stroke="#333" stroke-width="1.1"/>
<text x="500.45" y="258.00" font-size="7.1" text-anchor="end" fill="#2a2a2a" stroke="#2a2a2a" stroke-width="0.14" transform="rotate(-45 500.45 258.00)">ULP</text>
<line x1="529.95" y1="250.00" x2="529.95" y2="251.80" stroke="#333" stroke-width="1.1"/>
<text x="532.25" y="258.00" font-size="7.1" text-anchor="end" fill="#2a2a2a" stroke="#2a2a2a" stroke-width="0.14" transform="rotate(-45 532.25 258.00)">HP</text>
<text x="391.30" y="206.40" font-size="8.3" text-anchor="middle" fill="#2a2a2a" stroke="#2a2a2a" stroke-width="0.14" textLength="16.20" lengthAdjust="spacingAndGlyphs" transform="rotate(-90 391.30 206.40)">OCR</text>
<text x="400.00" y="206.20" font-size="7.2" text-anchor="middle" fill="#2a2a2a" stroke="#2a2a2a" stroke-width="0.14" textLength="88.50" lengthAdjust="spacingAndGlyphs" transform="rotate(-90 400.00 206.20)">(pmol/min per cell density)</text>
<text x="38.70" y="288.30" font-size="8.4" font-weight="bold" fill="#2a2a2a" stroke="#2a2a2a" stroke-width="0.08" textLength="126.50" lengthAdjust="spacingAndGlyphs">Non-mitochondrial respiration</text>
<line x1="55.50" y1="359.60" x2="55.50" y2="341.50" stroke="#333" stroke-width="1"/>
<line x1="50.20" y1="341.50" x2="60.80" y2="341.50" stroke="#333" stroke-width="1.3"/>
<rect x="45.50" y="359.60" width="20.00" height="28.80" fill="#fff" stroke="#333" stroke-width="1"/>
<path d="M54.30,338.15L55.00,333.05M56.00,338.15L56.70,333.05M53.50,334.65L57.50,334.65M53.50,336.55L57.50,336.55" stroke="#262626" stroke-width="0.85" fill="none"/>
<line x1="87.45" y1="349.50" x2="87.45" y2="334.20" stroke="#333" stroke-width="1"/>
<line x1="82.07" y1="334.20" x2="92.83" y2="334.20" stroke="#333" stroke-width="1.3"/>
<rect x="77.30" y="349.50" width="20.30" height="38.90" fill="#9d9ca1" stroke="#333" stroke-width="1"/>
<line x1="119.10" y1="345.10" x2="119.10" y2="334.20" stroke="#333" stroke-width="1"/>
<line x1="113.59" y1="334.20" x2="124.61" y2="334.20" stroke="#333" stroke-width="1.3"/>
<rect x="108.70" y="345.10" width="20.80" height="43.30" fill="#fff" stroke="#333" stroke-width="1"/>
<line x1="150.80" y1="368.40" x2="150.80" y2="352.00" stroke="#333" stroke-width="1"/>
<line x1="145.29" y1="352.00" x2="156.31" y2="352.00" stroke="#333" stroke-width="1.3"/>
<rect x="140.40" y="368.40" width="20.80" height="20.00" fill="#fff" stroke="#333" stroke-width="1"/>
<path d="M149.60,348.65L150.30,343.55M151.30,348.65L152.00,343.55M148.80,345.15L152.80,345.15M148.80,347.05L152.80,347.05" stroke="#262626" stroke-width="0.85" fill="none"/>
<line x1="39.60" y1="304.80" x2="39.60" y2="388.90" stroke="#333" stroke-width="1.3"/>
<line x1="37.60" y1="388.40" x2="39.60" y2="388.40" stroke="#333" stroke-width="1.1"/>
<text x="37.30" y="390.70" font-size="6.5" font-weight="bold" text-anchor="end" fill="#2a2a2a" stroke="#2a2a2a" stroke-width="0.08">0</text>
<line x1="37.60" y1="360.70" x2="39.60" y2="360.70" stroke="#333" stroke-width="1.1"/>
<text x="37.30" y="363.00" font-size="6.5" font-weight="bold" text-anchor="end" fill="#2a2a2a" stroke="#2a2a2a" stroke-width="0.08">50</text>
<line x1="37.60" y1="333.00" x2="39.60" y2="333.00" stroke="#333" stroke-width="1.1"/>
<text x="37.30" y="335.30" font-size="6.5" font-weight="bold" text-anchor="end" fill="#2a2a2a" stroke="#2a2a2a" stroke-width="0.08">100</text>
<line x1="37.60" y1="305.30" x2="39.60" y2="305.30" stroke="#333" stroke-width="1.1"/>
<text x="37.30" y="307.60" font-size="6.5" font-weight="bold" text-anchor="end" fill="#2a2a2a" stroke="#2a2a2a" stroke-width="0.08">150</text>
<line x1="39.00" y1="388.40" x2="167.00" y2="388.40" stroke="#333" stroke-width="1.3"/>
<line x1="55.50" y1="388.40" x2="55.50" y2="390.20" stroke="#333" stroke-width="1.1"/>
<text x="57.80" y="396.40" font-size="7.1" text-anchor="end" fill="#2a2a2a" stroke="#2a2a2a" stroke-width="0.14" transform="rotate(-45 57.80 396.40)">US</text>
<line x1="87.45" y1="388.40" x2="87.45" y2="390.20" stroke="#333" stroke-width="1.1"/>
<text x="89.75" y="396.40" font-size="7.1" text-anchor="end" fill="#2a2a2a" stroke="#2a2a2a" stroke-width="0.14" transform="rotate(-45 89.75 396.40)">UP</text>
<line x1="119.10" y1="388.40" x2="119.10" y2="390.20" stroke="#333" stroke-width="1.1"/>
<text x="121.40" y="396.40" font-size="7.1" text-anchor="end" fill="#2a2a2a" stroke="#2a2a2a" stroke-width="0.14" transform="rotate(-45 121.40 396.40)">ULP</text>
<line x1="150.80" y1="388.40" x2="150.80" y2="390.20" stroke="#333" stroke-width="1.1"/>
<text x="153.10" y="396.40" font-size="7.1" text-anchor="end" fill="#2a2a2a" stroke="#2a2a2a" stroke-width="0.14" transform="rotate(-45 153.10 396.40)">HP</text>
<text x="13.00" y="345.20" font-size="8.3" text-anchor="middle" fill="#2a2a2a" stroke="#2a2a2a" stroke-width="0.14" textLength="16.00" lengthAdjust="spacingAndGlyphs" transform="rotate(-90 13.00 345.20)">OCR</text>
<text x="21.00" y="344.90" font-size="7.2" text-anchor="middle" fill="#2a2a2a" stroke="#2a2a2a" stroke-width="0.14" textLength="87.70" lengthAdjust="spacingAndGlyphs" transform="rotate(-90 21.00 344.90)">(pmol/min per cell density)</text>
<text x="265.20" y="288.20" font-size="8.4" font-weight="bold" fill="#2a2a2a" stroke="#2a2a2a" stroke-width="0.08" textLength="47.10" lengthAdjust="spacingAndGlyphs">Proton leak</text>
<line x1="243.55" y1="374.20" x2="243.55" y2="361.00" stroke="#333" stroke-width="1"/>
<line x1="238.12" y1="361.00" x2="248.98" y2="361.00" stroke="#333" stroke-width="1.3"/>
<rect x="233.30" y="374.20" width="20.50" height="14.30" fill="#fff" stroke="#333" stroke-width="1"/>
<path d="M242.35,358.15L243.05,353.05M244.05,358.15L244.75,353.05M241.55,354.65L245.55,354.65M241.55,356.55L245.55,356.55" stroke="#262626" stroke-width="0.85" fill="none"/>
<line x1="275.30" y1="347.80" x2="275.30" y2="330.90" stroke="#333" stroke-width="1"/>
<line x1="269.89" y1="330.90" x2="280.71" y2="330.90" stroke="#333" stroke-width="1.3"/>
<rect x="265.10" y="347.80" width="20.40" height="40.70" fill="#9d9ca1" stroke="#333" stroke-width="1"/>
<line x1="307.00" y1="337.60" x2="307.00" y2="316.70" stroke="#333" stroke-width="1"/>
<line x1="301.38" y1="316.70" x2="312.62" y2="316.70" stroke="#333" stroke-width="1.3"/>
<rect x="296.40" y="337.60" width="21.20" height="50.90" fill="#fff" stroke="#333" stroke-width="1"/>
<path d="M305.80,313.85L306.50,308.75M307.50,313.85L308.20,308.75M305.00,310.35L309.00,310.35M305.00,312.25L309.00,312.25" stroke="#262626" stroke-width="0.85" fill="none"/>
<line x1="338.65" y1="362.70" x2="338.65" y2="348.70" stroke="#333" stroke-width="1"/>
<line x1="333.11" y1="348.70" x2="344.19" y2="348.70" stroke="#333" stroke-width="1.3"/>
<rect x="328.20" y="362.70" width="20.90" height="25.80" fill="#fff" stroke="#333" stroke-width="1"/>
<path d="M337.45,345.85L338.15,340.75M339.15,345.85L339.85,340.75M336.65,342.35L340.65,342.35M336.65,344.25L340.65,344.25" stroke="#262626" stroke-width="0.85" fill="none"/>
<line x1="227.50" y1="304.84" x2="227.50" y2="389.00" stroke="#333" stroke-width="1.3"/>
<line x1="225.50" y1="388.50" x2="227.50" y2="388.50" stroke="#333" stroke-width="1.1"/>
<text x="225.20" y="390.80" font-size="6.5" font-weight="bold" text-anchor="end" fill="#2a2a2a" stroke="#2a2a2a" stroke-width="0.08">0</text>
<line x1="225.50" y1="360.78" x2="227.50" y2="360.78" stroke="#333" stroke-width="1.1"/>
<text x="225.20" y="363.08" font-size="6.5" font-weight="bold" text-anchor="end" fill="#2a2a2a" stroke="#2a2a2a" stroke-width="0.08">20</text>
<line x1="225.50" y1="333.06" x2="227.50" y2="333.06" stroke="#333" stroke-width="1.1"/>
<text x="225.20" y="335.36" font-size="6.5" font-weight="bold" text-anchor="end" fill="#2a2a2a" stroke="#2a2a2a" stroke-width="0.08">40</text>
<line x1="225.50" y1="305.34" x2="227.50" y2="305.34" stroke="#333" stroke-width="1.1"/>
<text x="225.20" y="307.64" font-size="6.5" font-weight="bold" text-anchor="end" fill="#2a2a2a" stroke="#2a2a2a" stroke-width="0.08">60</text>
<line x1="226.90" y1="388.50" x2="355.00" y2="388.50" stroke="#333" stroke-width="1.3"/>
<line x1="243.55" y1="388.50" x2="243.55" y2="390.30" stroke="#333" stroke-width="1.1"/>
<text x="245.85" y="396.50" font-size="7.1" text-anchor="end" fill="#2a2a2a" stroke="#2a2a2a" stroke-width="0.14" transform="rotate(-45 245.85 396.50)">US</text>
<line x1="275.30" y1="388.50" x2="275.30" y2="390.30" stroke="#333" stroke-width="1.1"/>
<text x="277.60" y="396.50" font-size="7.1" text-anchor="end" fill="#2a2a2a" stroke="#2a2a2a" stroke-width="0.14" transform="rotate(-45 277.60 396.50)">UP</text>
<line x1="307.00" y1="388.50" x2="307.00" y2="390.30" stroke="#333" stroke-width="1.1"/>
<text x="309.30" y="396.50" font-size="7.1" text-anchor="end" fill="#2a2a2a" stroke="#2a2a2a" stroke-width="0.14" transform="rotate(-45 309.30 396.50)">ULP</text>
<line x1="338.65" y1="388.50" x2="338.65" y2="390.30" stroke="#333" stroke-width="1.1"/>
<text x="340.95" y="396.50" font-size="7.1" text-anchor="end" fill="#2a2a2a" stroke="#2a2a2a" stroke-width="0.14" transform="rotate(-45 340.95 396.50)">HP</text>
<text x="202.00" y="343.00" font-size="8.3" text-anchor="middle" fill="#2a2a2a" stroke="#2a2a2a" stroke-width="0.14" textLength="15.50" lengthAdjust="spacingAndGlyphs" transform="rotate(-90 202.00 343.00)">OCR</text>
<text x="211.80" y="344.40" font-size="7.2" text-anchor="middle" fill="#2a2a2a" stroke="#2a2a2a" stroke-width="0.14" textLength="90.60" lengthAdjust="spacingAndGlyphs" transform="rotate(-90 211.80 344.40)">(pmol/min per cell density)</text>
<text x="439.30" y="288.00" font-size="8.4" font-weight="bold" fill="#2a2a2a" stroke="#2a2a2a" stroke-width="0.08" textLength="82.10" lengthAdjust="spacingAndGlyphs">Maximal respiration</text>
<line x1="434.85" y1="375.50" x2="434.85" y2="349.00" stroke="#333" stroke-width="1"/>
<line x1="429.36" y1="349.00" x2="440.34" y2="349.00" stroke="#333" stroke-width="1.3"/>
<rect x="424.50" y="375.50" width="20.70" height="13.20" fill="#fff" stroke="#333" stroke-width="1"/>
<path d="M433.65,346.55L434.35,341.45M435.35,346.55L436.05,341.45M432.85,343.05L436.85,343.05M432.85,344.95L436.85,344.95" stroke="#262626" stroke-width="0.85" fill="none"/>
<line x1="466.65" y1="360.90" x2="466.65" y2="338.70" stroke="#333" stroke-width="1"/>
<line x1="461.22" y1="338.70" x2="472.08" y2="338.70" stroke="#333" stroke-width="1.3"/>
<rect x="456.40" y="360.90" width="20.50" height="27.80" fill="#9d9ca1" stroke="#333" stroke-width="1"/>
<line x1="498.15" y1="344.00" x2="498.15" y2="311.80" stroke="#333" stroke-width="1"/>
<line x1="492.66" y1="311.80" x2="503.64" y2="311.80" stroke="#333" stroke-width="1.3"/>
<rect x="487.80" y="344.00" width="20.70" height="44.70" fill="#fff" stroke="#333" stroke-width="1"/>
<path d="M496.95,309.35L497.65,304.25M498.65,309.35L499.35,304.25M496.15,305.85L500.15,305.85M496.15,307.75L500.15,307.75" stroke="#262626" stroke-width="0.85" fill="none"/>
<line x1="529.95" y1="374.20" x2="529.95" y2="363.10" stroke="#333" stroke-width="1"/>
<line x1="524.41" y1="363.10" x2="535.49" y2="363.10" stroke="#333" stroke-width="1.3"/>
<rect x="519.50" y="374.20" width="20.90" height="14.50" fill="#fff" stroke="#333" stroke-width="1"/>
<path d="M528.75,360.65L529.45,355.55M530.45,360.65L531.15,355.55M527.95,357.15L531.95,357.15M527.95,359.05L531.95,359.05" stroke="#262626" stroke-width="0.85" fill="none"/>
<line x1="418.80" y1="304.80" x2="418.80" y2="389.20" stroke="#333" stroke-width="1.3"/>
<line x1="416.80" y1="388.70" x2="418.80" y2="388.70" stroke="#333" stroke-width="1.1"/>
<text x="416.50" y="391.00" font-size="6.5" font-weight="bold" text-anchor="end" fill="#2a2a2a" stroke="#2a2a2a" stroke-width="0.08">0</text>
<line x1="416.80" y1="360.90" x2="418.80" y2="360.90" stroke="#333" stroke-width="1.1"/>
<text x="416.50" y="363.20" font-size="6.5" font-weight="bold" text-anchor="end" fill="#2a2a2a" stroke="#2a2a2a" stroke-width="0.08">100</text>
<line x1="416.80" y1="333.10" x2="418.80" y2="333.10" stroke="#333" stroke-width="1.1"/>
<text x="416.50" y="335.40" font-size="6.5" font-weight="bold" text-anchor="end" fill="#2a2a2a" stroke="#2a2a2a" stroke-width="0.08">200</text>
<line x1="416.80" y1="305.30" x2="418.80" y2="305.30" stroke="#333" stroke-width="1.1"/>
<text x="416.50" y="307.60" font-size="6.5" font-weight="bold" text-anchor="end" fill="#2a2a2a" stroke="#2a2a2a" stroke-width="0.08">300</text>
<line x1="418.20" y1="388.70" x2="546.20" y2="388.70" stroke="#333" stroke-width="1.3"/>
<line x1="434.85" y1="388.70" x2="434.85" y2="390.50" stroke="#333" stroke-width="1.1"/>
<text x="437.15" y="396.70" font-size="7.1" text-anchor="end" fill="#2a2a2a" stroke="#2a2a2a" stroke-width="0.14" transform="rotate(-45 437.15 396.70)">US</text>
<line x1="466.65" y1="388.70" x2="466.65" y2="390.50" stroke="#333" stroke-width="1.1"/>
<text x="468.95" y="396.70" font-size="7.1" text-anchor="end" fill="#2a2a2a" stroke="#2a2a2a" stroke-width="0.14" transform="rotate(-45 468.95 396.70)">UP</text>
<line x1="498.15" y1="388.70" x2="498.15" y2="390.50" stroke="#333" stroke-width="1.1"/>
<text x="500.45" y="396.70" font-size="7.1" text-anchor="end" fill="#2a2a2a" stroke="#2a2a2a" stroke-width="0.14" transform="rotate(-45 500.45 396.70)">ULP</text>
<line x1="529.95" y1="388.70" x2="529.95" y2="390.50" stroke="#333" stroke-width="1.1"/>
<text x="532.25" y="396.70" font-size="7.1" text-anchor="end" fill="#2a2a2a" stroke="#2a2a2a" stroke-width="0.14" transform="rotate(-45 532.25 396.70)">HP</text>
<text x="391.20" y="345.30" font-size="8.3" text-anchor="middle" fill="#2a2a2a" stroke="#2a2a2a" stroke-width="0.14" textLength="15.50" lengthAdjust="spacingAndGlyphs" transform="rotate(-90 391.20 345.30)">OCR</text>
<text x="400.20" y="346.30" font-size="7.2" text-anchor="middle" fill="#2a2a2a" stroke="#2a2a2a" stroke-width="0.14" textLength="86.80" lengthAdjust="spacingAndGlyphs" transform="rotate(-90 400.20 346.30)">(pmol/min per cell density)</text>
<text x="426.60" y="428.70" font-size="8.4" font-weight="bold" fill="#2a2a2a" stroke="#2a2a2a" stroke-width="0.08" textLength="109.10" lengthAdjust="spacingAndGlyphs">Glycolytic reserve capacity</text>
<line x1="435.15" y1="521.40" x2="435.15" y2="498.40" stroke="#333" stroke-width="1"/>
<line x1="429.77" y1="498.40" x2="440.53" y2="498.40" stroke="#333" stroke-width="1.3"/>
<rect x="425.00" y="521.40" width="20.30" height="5.00" fill="#fff" stroke="#333" stroke-width="1"/>
<line x1="466.55" y1="513.10" x2="466.55" y2="492.70" stroke="#333" stroke-width="1"/>
<line x1="461.17" y1="492.70" x2="471.93" y2="492.70" stroke="#333" stroke-width="1.3"/>
<rect x="456.40" y="513.10" width="20.30" height="13.30" fill="#9d9ca1" stroke="#333" stroke-width="1"/>
<line x1="497.45" y1="498.20" x2="497.45" y2="470.50" stroke="#333" stroke-width="1"/>
<line x1="492.07" y1="470.50" x2="502.83" y2="470.50" stroke="#333" stroke-width="1.3"/>
<rect x="487.30" y="498.20" width="20.30" height="28.20" fill="#fff" stroke="#333" stroke-width="1"/>
<path d="M496.25,468.05L496.95,462.95M497.95,468.05L498.65,462.95M495.45,464.55L499.45,464.55M495.45,466.45L499.45,466.45" stroke="#262626" stroke-width="0.85" fill="none"/>
<line x1="528.35" y1="517.60" x2="528.35" y2="500.90" stroke="#333" stroke-width="1"/>
<line x1="522.97" y1="500.90" x2="533.73" y2="500.90" stroke="#333" stroke-width="1.3"/>
<rect x="518.20" y="517.60" width="20.30" height="8.80" fill="#fff" stroke="#333" stroke-width="1"/>
<line x1="419.20" y1="442.35" x2="419.20" y2="526.90" stroke="#333" stroke-width="1.3"/>
<line x1="417.20" y1="526.40" x2="419.20" y2="526.40" stroke="#333" stroke-width="1.1"/>
<text x="416.90" y="528.70" font-size="6.5" font-weight="bold" text-anchor="end" fill="#2a2a2a" stroke="#2a2a2a" stroke-width="0.08">0</text>
<line x1="417.20" y1="498.55" x2="419.20" y2="498.55" stroke="#333" stroke-width="1.1"/>
<text x="416.90" y="500.85" font-size="6.5" font-weight="bold" text-anchor="end" fill="#2a2a2a" stroke="#2a2a2a" stroke-width="0.08">50</text>
<line x1="417.20" y1="470.70" x2="419.20" y2="470.70" stroke="#333" stroke-width="1.1"/>
<text x="416.90" y="473.00" font-size="6.5" font-weight="bold" text-anchor="end" fill="#2a2a2a" stroke="#2a2a2a" stroke-width="0.08">100</text>
<line x1="417.20" y1="442.85" x2="419.20" y2="442.85" stroke="#333" stroke-width="1.1"/>
<text x="416.90" y="445.15" font-size="6.5" font-weight="bold" text-anchor="end" fill="#2a2a2a" stroke="#2a2a2a" stroke-width="0.08">150</text>
<line x1="418.60" y1="526.40" x2="544.50" y2="526.40" stroke="#333" stroke-width="1.3"/>
<line x1="435.15" y1="526.40" x2="435.15" y2="528.20" stroke="#333" stroke-width="1.1"/>
<text x="437.45" y="534.40" font-size="7.1" text-anchor="end" fill="#2a2a2a" stroke="#2a2a2a" stroke-width="0.14" transform="rotate(-45 437.45 534.40)">US</text>
<line x1="466.55" y1="526.40" x2="466.55" y2="528.20" stroke="#333" stroke-width="1.1"/>
<text x="468.85" y="534.40" font-size="7.1" text-anchor="end" fill="#2a2a2a" stroke="#2a2a2a" stroke-width="0.14" transform="rotate(-45 468.85 534.40)">UP</text>
<line x1="497.45" y1="526.40" x2="497.45" y2="528.20" stroke="#333" stroke-width="1.1"/>
<text x="499.75" y="534.40" font-size="7.1" text-anchor="end" fill="#2a2a2a" stroke="#2a2a2a" stroke-width="0.14" transform="rotate(-45 499.75 534.40)">ULP</text>
<line x1="528.35" y1="526.40" x2="528.35" y2="528.20" stroke="#333" stroke-width="1.1"/>
<text x="530.65" y="534.40" font-size="7.1" text-anchor="end" fill="#2a2a2a" stroke="#2a2a2a" stroke-width="0.14" transform="rotate(-45 530.65 534.40)">HP</text>
<text x="391.50" y="485.50" font-size="8.3" text-anchor="middle" fill="#2a2a2a" stroke="#2a2a2a" stroke-width="0.14" textLength="19.50" lengthAdjust="spacingAndGlyphs" transform="rotate(-90 391.50 485.50)">ECAR</text>
<text x="401.10" y="484.40" font-size="7.2" text-anchor="middle" fill="#2a2a2a" stroke="#2a2a2a" stroke-width="0.14" textLength="90.60" lengthAdjust="spacingAndGlyphs" transform="rotate(-90 401.10 484.40)">(mpH/min per cell density)</text>
</svg>
</body></html>
